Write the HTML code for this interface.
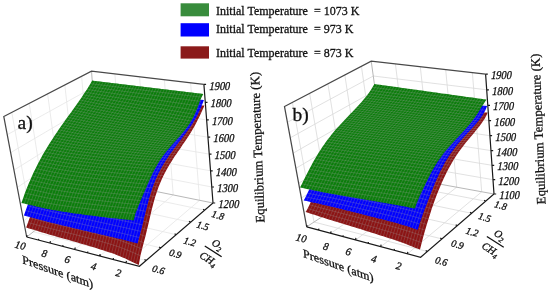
<!DOCTYPE html>
<html><head><meta charset="utf-8"><title>Equilibrium Temperature</title>
<style>
html,body{margin:0;padding:0;background:#fff;}
svg{display:block;}
text{font-family:"Liberation Serif",serif;fill:#111;stroke:#111;stroke-width:0.3px;}
.it{font-style:italic;}
</style></head><body>
<svg width="550" height="291" viewBox="0 0 550 291">
<rect width="550" height="291" fill="#fff"/>

<rect x="180.6" y="3.3" width="28.4" height="13" fill="#388c3c"/>
<rect x="180.6" y="23.2" width="28.4" height="13.3" fill="#0000ff"/>
<rect x="180.6" y="46.3" width="28.4" height="12.3" fill="#8b1a1a"/>
<text x="216" y="14.6" font-size="12" xml:space="preserve">Initial Temperature  = 1073 K</text>
<text x="216" y="33.2" font-size="12" xml:space="preserve">Initial Temperature  = 973 K</text>
<text x="216" y="57.2" font-size="12" xml:space="preserve">Initial Temperature  = 873 K</text>
<path d="M7.3,134.7 L92.7,87.6 L205.3,102.3 M10.7,152.6 L93.9,103.7 L206.6,119.9 M14.0,170.1 L95.1,119.6 L208.0,137.2 M17.3,187.4 L96.2,135.1 L209.3,154.1 M20.5,204.2 L97.3,150.4 L210.5,170.8 M23.6,220.8 L98.4,165.3 L211.8,187.0 M11.8,112.4 L33.3,231.8 L146.1,260.5 M29.2,103.3 L47.8,220.5 L160.7,247.9 M47.6,93.8 L63.1,208.5 L176.2,234.7 M64.8,84.9 L77.3,197.4 L190.6,222.3 M81.6,76.2 L91.3,186.4 L204.7,210.2 M114.9,73.9 L123.1,184.8 L50.1,243.1 M139.6,76.8 L148.1,189.8 L74.9,249.5 M164.4,79.7 L173.2,194.9 L99.8,256.0 M190.6,82.8 L199.6,200.3 L126.1,262.8" fill="none" stroke="#e6e6e6" stroke-width="0.8"/>
<path d="M91.5,71.1 L99.5,180.0 M26.7,237.0 L99.5,180.0 L213.0,203.0" fill="none" stroke="#b8b8b8" stroke-width="1"/>
<path d="M26.7,237.0 L3.8,116.5 L91.5,71.1 L203.9,84.4" fill="none" stroke="#484848" stroke-width="1.25"/>
<path d="M26.2,227.5 L29.0,228.4 L31.9,229.3 L34.7,230.1 L37.6,231.0 L40.4,231.9 L43.2,232.8 L46.1,233.6 L48.9,234.5 L51.8,235.3 L54.6,236.1 L57.5,236.9 L60.4,237.7 L63.2,238.5 L66.1,239.3 L69.0,240.1 L71.8,240.9 L74.7,241.7 L77.5,242.5 L80.4,243.4 L83.2,244.2 L86.1,245.0 L88.9,245.9 L91.8,246.7 L94.6,247.6 L97.5,248.5 L100.3,249.4 L103.1,250.3 L105.9,251.2 L108.8,252.2 L111.6,253.1 L114.4,254.1 L117.2,255.2 L119.9,256.3 L122.7,257.4 L125.4,258.6 L128.1,259.9 L130.8,261.2 L133.4,262.5 L136.1,263.7 L138.8,265.0 L140.4,255.7 L142.1,249.0 L143.7,242.7 L145.4,236.4 L147.0,229.7 L148.7,222.8 L150.3,215.7 L151.9,208.9 L153.6,202.5 L155.2,196.8 L156.9,191.7 L158.5,187.1 L160.2,183.0 L161.8,179.2 L163.4,175.7 L165.1,172.5 L166.7,169.4 L168.4,166.6 L170.0,163.8 L171.7,161.2 L173.3,158.6 L174.9,156.1 L176.6,153.7 L178.2,151.3 L179.9,148.9 L181.5,146.5 L183.1,144.1 L184.8,141.7 L186.4,139.2 L188.1,136.7 L189.7,134.2 L191.4,131.5 L193.0,128.8 L194.6,125.9 L196.3,122.8 L197.9,119.6 L199.6,116.3 L201.2,112.7 L202.9,109.1 L204.5,105.4 L201.8,105.4 L199.1,105.4 L196.4,105.4 L193.8,105.4 L191.1,105.4 L188.4,105.4 L185.7,105.4 L183.0,105.4 L180.3,105.4 L177.6,105.3 L174.9,105.3 L172.2,105.3 L169.6,105.3 L166.9,105.3 L164.2,105.3 L161.5,105.3 L158.8,105.3 L156.1,105.3 L153.4,105.3 L150.8,105.3 L148.1,105.3 L145.4,105.3 L142.7,105.3 L140.0,105.3 L137.3,105.3 L134.6,105.3 L131.9,105.3 L129.2,105.3 L126.6,105.3 L123.9,105.2 L121.2,105.2 L118.5,105.2 L115.8,105.2 L113.1,105.2 L110.4,105.2 L107.8,105.2 L105.1,105.2 L102.4,105.2 L99.7,105.2 L97.0,105.2 L95.2,108.3 L93.5,111.2 L91.7,114.0 L89.9,116.7 L88.1,119.4 L86.4,122.0 L84.6,124.6 L82.8,127.1 L81.1,129.6 L79.3,132.1 L77.5,134.5 L75.8,137.0 L74.0,139.4 L72.2,141.9 L70.4,144.4 L68.7,146.8 L66.9,149.3 L65.1,151.9 L63.4,154.4 L61.6,157.0 L59.8,159.6 L58.1,162.3 L56.3,165.0 L54.5,167.8 L52.8,170.7 L51.0,173.6 L49.2,176.6 L47.4,179.7 L45.7,182.8 L43.9,186.1 L42.1,189.5 L40.4,193.1 L38.6,196.7 L36.8,200.6 L35.1,204.5 L33.3,208.7 L31.5,213.1 L29.7,217.7 L28.0,222.5 L26.2,227.5Z" fill="#8b1414"/>
<path d="M28.0,222.5 L39.3,225.6 L50.7,228.6 L62.1,231.4 L73.5,234.2 L84.9,237.1 L96.3,240.1 L107.6,243.3 L118.8,246.8 L129.7,251.1 L140.4,255.7 M29.7,217.7 L41.1,220.6 L52.4,223.4 L63.8,226.1 L75.2,228.7 L86.6,231.4 L98.0,234.2 L109.3,237.2 L120.4,240.5 L131.4,244.6 L142.1,249.0 M31.5,213.1 L42.8,215.8 L54.1,218.5 L65.5,221.0 L76.9,223.4 L88.3,226.0 L99.6,228.6 L110.9,231.5 L122.1,234.6 L133.0,238.5 L143.7,242.7 M33.3,208.7 L44.6,211.3 L55.9,213.8 L67.3,216.1 L78.6,218.3 L90.0,220.7 L101.3,223.1 L112.6,225.8 L123.7,228.7 L134.6,232.4 L145.4,236.4 M35.1,204.5 L46.3,206.9 L57.6,209.1 L69.0,211.2 L80.3,213.2 L91.7,215.3 L103.0,217.6 L114.2,220.0 L125.4,222.7 L136.3,226.0 L147.0,229.7 M36.8,200.6 L48.1,202.6 L59.4,204.6 L70.7,206.3 L82.0,208.1 L93.4,209.9 L104.7,211.9 L115.9,214.0 L127.0,216.4 L137.9,219.4 L148.7,222.8 M38.6,196.7 L49.8,198.4 L61.1,200.1 L72.4,201.6 L83.8,203.0 L95.1,204.5 L106.3,206.1 L117.5,207.9 L128.7,210.0 L139.6,212.7 L150.3,215.7 M40.4,193.1 L51.6,194.5 L62.8,195.8 L74.1,197.0 L85.5,198.1 L96.7,199.3 L108.0,200.6 L119.2,202.1 L130.3,203.8 L141.2,206.2 L151.9,208.9 M42.1,189.5 L53.3,190.7 L64.6,191.7 L75.9,192.6 L87.2,193.5 L98.4,194.4 L109.7,195.5 L120.9,196.7 L132.0,198.1 L142.8,200.2 L153.6,202.5 M43.9,186.1 L55.1,187.0 L66.3,187.9 L77.6,188.6 L88.9,189.2 L100.1,189.9 L111.3,190.7 L122.5,191.7 L133.6,192.9 L144.5,194.7 L155.2,196.8 M45.7,182.8 L56.9,183.6 L68.1,184.2 L79.3,184.8 L90.6,185.2 L101.8,185.8 L113.0,186.4 L124.2,187.2 L135.3,188.2 L146.1,189.8 L156.9,191.7 M47.4,179.7 L58.6,180.3 L69.8,180.8 L81.0,181.2 L92.3,181.5 L103.5,181.9 L114.7,182.5 L125.8,183.1 L136.9,184.0 L147.8,185.4 L158.5,187.1 M49.2,176.6 L60.4,177.1 L71.5,177.5 L82.8,177.8 L94.0,178.1 L105.2,178.4 L116.4,178.8 L127.5,179.4 L138.6,180.1 L149.4,181.4 L160.2,183.0 M51.0,173.6 L62.1,174.0 L73.3,174.4 L84.5,174.6 L95.7,174.8 L106.9,175.1 L118.0,175.4 L129.2,175.9 L140.2,176.6 L151.1,177.7 L161.8,179.2 M52.8,170.7 L63.9,171.0 L75.0,171.4 L86.2,171.5 L97.4,171.7 L108.6,171.9 L119.7,172.2 L130.8,172.6 L141.8,173.3 L152.7,174.4 L163.4,175.7 M54.5,167.8 L65.6,168.1 L76.8,168.4 L87.9,168.6 L99.1,168.7 L110.2,168.9 L121.4,169.2 L132.5,169.6 L143.5,170.2 L154.3,171.2 L165.1,172.5 M56.3,165.0 L67.4,165.3 L78.5,165.6 L89.6,165.8 L100.8,165.9 L111.9,166.1 L123.0,166.3 L134.1,166.7 L145.1,167.2 L156.0,168.2 L166.7,169.4 M58.1,162.3 L69.1,162.6 L80.2,162.9 L91.4,163.0 L102.5,163.1 L113.6,163.3 L124.7,163.5 L135.8,163.9 L146.8,164.4 L157.6,165.4 L168.4,166.6 M59.8,159.6 L70.9,159.9 L82.0,160.2 L93.1,160.3 L104.2,160.5 L115.3,160.6 L126.4,160.9 L137.4,161.2 L148.4,161.8 L159.3,162.7 L170.0,163.8 M61.6,157.0 L72.7,157.3 L83.7,157.6 L94.8,157.7 L105.9,157.9 L117.0,158.1 L128.1,158.3 L139.1,158.7 L150.1,159.2 L160.9,160.1 L171.7,161.2 M63.4,154.4 L74.4,154.7 L85.5,155.0 L96.5,155.2 L107.6,155.3 L118.7,155.5 L129.7,155.8 L140.8,156.2 L151.7,156.7 L162.6,157.5 L173.3,158.6 M65.1,151.9 L76.2,152.2 L87.2,152.5 L98.3,152.7 L109.3,152.8 L120.4,153.1 L131.4,153.3 L142.4,153.7 L153.4,154.2 L164.2,155.1 L174.9,156.1 M66.9,149.3 L77.9,149.7 L88.9,150.0 L100.0,150.2 L111.0,150.4 L122.1,150.6 L133.1,150.9 L144.1,151.3 L155.0,151.8 L165.8,152.7 L176.6,153.7 M68.7,146.8 L79.7,147.2 L90.7,147.5 L101.7,147.8 L112.7,148.0 L123.7,148.2 L134.8,148.5 L145.7,148.9 L156.7,149.5 L167.5,150.3 L178.2,151.3 M70.4,144.4 L81.4,144.7 L92.4,145.1 L103.4,145.3 L114.4,145.6 L125.4,145.8 L136.4,146.2 L147.4,146.6 L158.3,147.1 L169.1,147.9 L179.9,148.9 M72.2,141.9 L83.2,142.3 L94.1,142.6 L105.1,142.9 L116.1,143.2 L127.1,143.5 L138.1,143.8 L149.0,144.2 L160.0,144.8 L170.8,145.6 L181.5,146.5 M74.0,139.4 L84.9,139.8 L95.9,140.2 L106.9,140.5 L117.8,140.8 L128.8,141.1 L139.8,141.5 L150.7,141.9 L161.6,142.4 L172.4,143.2 L183.1,144.1 M75.8,137.0 L86.7,137.4 L97.6,137.8 L108.6,138.1 L119.5,138.4 L130.5,138.7 L141.4,139.1 L152.4,139.5 L163.2,140.1 L174.0,140.8 L184.8,141.7 M77.5,134.5 L88.4,134.9 L99.4,135.3 L110.3,135.7 L121.3,136.0 L132.2,136.3 L143.1,136.7 L154.0,137.1 L164.9,137.7 L175.7,138.4 L186.4,139.2 M79.3,132.1 L90.2,132.5 L101.1,132.9 L112.0,133.2 L123.0,133.5 L133.9,133.9 L144.8,134.3 L155.7,134.7 L166.5,135.2 L177.3,135.9 L188.1,136.7 M81.1,129.6 L92.0,130.0 L102.8,130.4 L113.8,130.7 L124.7,131.1 L135.6,131.4 L146.5,131.8 L157.3,132.2 L168.2,132.7 L179.0,133.4 L189.7,134.2 M82.8,127.1 L93.7,127.5 L104.6,127.9 L115.5,128.2 L126.4,128.5 L137.2,128.9 L148.1,129.3 L159.0,129.7 L169.8,130.2 L180.6,130.8 L191.4,131.5 M84.6,124.6 L95.5,124.9 L106.3,125.3 L117.2,125.6 L128.1,126.0 L138.9,126.3 L149.8,126.7 L160.6,127.1 L171.5,127.5 L182.3,128.1 L193.0,128.8 M86.4,122.0 L97.2,122.4 L108.1,122.7 L118.9,123.0 L129.8,123.3 L140.6,123.6 L151.5,124.0 L162.3,124.3 L173.1,124.7 L183.9,125.3 L194.6,125.9 M88.1,119.4 L99.0,119.7 L109.8,120.0 L120.6,120.3 L131.5,120.6 L142.3,120.9 L153.1,121.2 L164.0,121.5 L174.8,121.9 L185.5,122.3 L196.3,122.8 M89.9,116.7 L100.7,117.0 L111.5,117.3 L122.4,117.5 L133.2,117.7 L144.0,118.0 L154.8,118.2 L165.6,118.5 L176.4,118.8 L187.2,119.2 L197.9,119.6 M91.7,114.0 L102.5,114.2 L113.3,114.4 L124.1,114.6 L134.9,114.8 L145.7,115.0 L156.5,115.2 L167.3,115.4 L178.1,115.6 L188.8,115.9 L199.6,116.3 M93.5,111.2 L104.2,111.3 L115.0,111.5 L125.8,111.6 L136.6,111.7 L147.4,111.8 L158.2,112.0 L168.9,112.1 L179.7,112.3 L190.5,112.5 L201.2,112.7 M95.2,108.3 L106.0,108.3 L116.8,108.4 L127.5,108.5 L138.3,108.5 L149.1,108.6 L159.8,108.7 L170.6,108.8 L181.4,108.9 L192.1,109.0 L202.9,109.1 M29.0,228.4 L36.1,209.3 L43.2,193.4 L50.2,179.8 L57.3,167.9 L64.4,157.1 L71.4,146.9 L78.5,137.1 L85.6,127.2 L92.6,116.8 L99.7,105.2 M31.9,229.3 L38.9,210.0 L46.0,193.8 L53.0,180.0 L60.1,168.0 L67.1,157.2 L74.2,147.0 L81.2,137.2 L88.3,127.3 L95.3,116.9 L102.4,105.2 M34.7,230.1 L41.8,210.6 L48.8,194.1 L55.8,180.1 L62.9,168.1 L69.9,157.2 L76.9,147.1 L84.0,137.3 L91.0,127.4 L98.0,116.9 L105.1,105.2 M37.6,231.0 L44.6,211.3 L51.6,194.5 L58.6,180.3 L65.6,168.1 L72.7,157.3 L79.7,147.2 L86.7,137.4 L93.7,127.5 L100.7,117.0 L107.7,105.2 M40.4,231.9 L47.4,211.9 L54.4,194.8 L61.4,180.4 L68.4,168.2 L75.4,157.4 L82.4,147.3 L89.4,137.5 L96.4,127.6 L103.4,117.1 L110.4,105.2 M43.2,232.8 L50.2,212.5 L57.2,195.2 L64.2,180.5 L71.2,168.3 L78.2,157.5 L85.2,147.4 L92.2,137.6 L99.1,127.7 L106.1,117.1 L113.1,105.2 M46.1,233.6 L53.1,213.2 L60.0,195.5 L67.0,180.7 L74.0,168.4 L80.9,157.5 L87.9,147.4 L94.9,137.7 L101.9,127.8 L108.8,117.2 L115.8,105.2 M48.9,234.5 L55.9,213.8 L62.8,195.8 L69.8,180.8 L76.8,168.4 L83.7,157.6 L90.7,147.5 L97.6,137.8 L104.6,127.9 L111.5,117.3 L118.5,105.2 M51.8,235.3 L58.7,214.4 L65.7,196.1 L72.6,180.9 L79.5,168.5 L86.5,157.6 L93.4,147.6 L100.4,137.9 L107.3,128.0 L114.2,117.3 L121.2,105.2 M54.6,236.1 L61.6,215.0 L68.5,196.4 L75.4,181.0 L82.3,168.5 L89.3,157.7 L96.2,147.6 L103.1,137.9 L110.0,128.0 L117.0,117.4 L123.9,105.2 M57.5,236.9 L64.4,215.5 L71.3,196.7 L78.2,181.1 L85.1,168.6 L92.0,157.7 L98.9,147.7 L105.8,138.0 L112.7,128.1 L119.7,117.4 L126.6,105.3 M60.4,237.7 L67.3,216.1 L74.1,197.0 L81.0,181.2 L87.9,168.6 L94.8,157.7 L101.7,147.8 L108.6,138.1 L115.5,128.2 L122.4,117.5 L129.3,105.3 M63.2,238.5 L70.1,216.6 L77.0,197.3 L83.8,181.3 L90.7,168.6 L97.6,157.8 L104.5,147.8 L111.3,138.2 L118.2,128.3 L125.1,117.6 L131.9,105.3 M66.1,239.3 L72.9,217.2 L79.8,197.5 L86.7,181.3 L93.5,168.7 L100.4,157.8 L107.2,147.9 L114.1,138.2 L120.9,128.4 L127.8,117.6 L134.6,105.3 M69.0,240.1 L75.8,217.8 L82.6,197.8 L89.5,181.4 L96.3,168.7 L103.1,157.8 L110.0,147.9 L116.8,138.3 L123.6,128.5 L130.5,117.7 L137.3,105.3 M71.8,240.9 L78.6,218.3 L85.5,198.1 L92.3,181.5 L99.1,168.7 L105.9,157.9 L112.7,148.0 L119.5,138.4 L126.4,128.5 L133.2,117.7 L140.0,105.3 M74.7,241.7 L81.5,218.9 L88.3,198.4 L95.1,181.6 L101.9,168.8 L108.7,157.9 L115.5,148.0 L122.3,138.5 L129.1,128.6 L135.9,117.8 L142.7,105.3 M77.5,242.5 L84.3,219.5 L91.1,198.7 L97.9,181.7 L104.7,168.8 L111.5,158.0 L118.2,148.1 L125.0,138.6 L131.8,128.7 L138.6,117.9 L145.4,105.3 M80.4,243.4 L87.2,220.1 L93.9,199.0 L100.7,181.8 L107.5,168.9 L114.2,158.0 L121.0,148.2 L127.8,138.6 L134.5,128.8 L141.3,117.9 L148.1,105.3 M83.2,244.2 L90.0,220.7 L96.7,199.3 L103.5,181.9 L110.2,168.9 L117.0,158.1 L123.7,148.2 L130.5,138.7 L137.2,128.9 L144.0,118.0 L150.8,105.3 M86.1,245.0 L92.8,221.3 L99.6,199.6 L106.3,182.1 L113.0,169.0 L119.8,158.1 L126.5,148.3 L133.2,138.8 L140.0,129.0 L146.7,118.0 L153.4,105.3 M88.9,245.9 L95.7,221.9 L102.4,200.0 L109.1,182.2 L115.8,169.0 L122.5,158.2 L129.3,148.4 L136.0,138.9 L142.7,129.1 L149.4,118.1 L156.1,105.3 M91.8,246.7 L98.5,222.5 L105.2,200.3 L111.9,182.3 L118.6,169.1 L125.3,158.2 L132.0,148.5 L138.7,139.0 L145.4,129.2 L152.1,118.2 L158.8,105.3 M94.6,247.6 L101.3,223.1 L108.0,200.6 L114.7,182.5 L121.4,169.2 L128.1,158.3 L134.8,148.5 L141.4,139.1 L148.1,129.3 L154.8,118.2 L161.5,105.3 M97.5,248.5 L104.1,223.8 L110.8,201.0 L117.5,182.6 L124.2,169.3 L130.8,158.4 L137.5,148.6 L144.2,139.2 L150.8,129.4 L157.5,118.3 L164.2,105.3 M100.3,249.4 L107.0,224.5 L113.6,201.3 L120.3,182.8 L126.9,169.4 L133.6,158.5 L140.2,148.7 L146.9,139.3 L153.6,129.5 L160.2,118.4 L166.9,105.3 M103.1,250.3 L109.8,225.1 L116.4,201.7 L123.1,182.9 L129.7,169.5 L136.3,158.6 L143.0,148.8 L149.6,139.4 L156.3,129.6 L162.9,118.4 L169.6,105.3 M105.9,251.2 L112.6,225.8 L119.2,202.1 L125.8,183.1 L132.5,169.6 L139.1,158.7 L145.7,148.9 L152.4,139.5 L159.0,129.7 L165.6,118.5 L172.3,105.3 M108.8,252.2 L115.4,226.5 L122.0,202.5 L128.6,183.3 L135.2,169.7 L141.9,158.8 L148.5,149.0 L155.1,139.6 L161.7,129.8 L168.3,118.6 L174.9,105.3 M111.6,253.1 L118.2,227.2 L124.8,202.9 L131.4,183.5 L138.0,169.8 L144.6,158.9 L151.2,149.2 L157.8,139.8 L164.4,129.9 L171.0,118.7 L177.6,105.4 M114.4,254.1 L121.0,228.0 L127.6,203.4 L134.2,183.7 L140.7,170.0 L147.3,159.0 L153.9,149.3 L160.5,139.9 L167.1,130.0 L173.7,118.7 L180.3,105.4 M117.2,255.2 L123.7,228.7 L130.3,203.8 L136.9,184.0 L143.5,170.2 L150.1,159.2 L156.7,149.5 L163.2,140.1 L169.8,130.2 L176.4,118.8 L183.0,105.4 M119.9,256.3 L126.5,229.6 L133.1,204.4 L139.7,184.3 L146.2,170.4 L152.8,159.4 L159.4,149.6 L166.0,140.2 L172.5,130.3 L179.1,118.9 L185.7,105.4 M122.7,257.4 L129.2,230.5 L135.8,204.9 L142.4,184.6 L148.9,170.6 L155.5,159.6 L162.1,149.8 L168.7,140.4 L175.2,130.5 L181.8,119.0 L188.4,105.4 M125.4,258.6 L131.9,231.4 L138.5,205.5 L145.1,185.0 L151.7,170.9 L158.2,159.8 L164.8,150.0 L171.4,140.6 L177.9,130.6 L184.5,119.1 L191.1,105.4 M128.1,259.9 L134.6,232.4 L141.2,206.2 L147.8,185.4 L154.3,171.2 L160.9,160.1 L167.5,150.3 L174.0,140.8 L180.6,130.8 L187.2,119.2 L193.8,105.4 M130.8,261.2 L137.3,233.4 L143.9,206.9 L150.5,185.8 L157.0,171.5 L163.6,160.3 L170.2,150.5 L176.7,141.0 L183.3,131.0 L189.9,119.3 L196.4,105.4 M133.4,262.5 L140.0,234.4 L146.6,207.5 L153.1,186.3 L159.7,171.8 L166.3,160.6 L172.8,150.8 L179.4,141.3 L186.0,131.2 L192.6,119.4 L199.1,105.4 M136.1,263.7 L142.7,235.4 L149.3,208.2 L155.8,186.7 L162.4,172.2 L169.0,160.9 L175.5,151.0 L182.1,141.5 L188.7,131.3 L195.2,119.5 L201.8,105.4" fill="none" stroke="rgba(165,165,165,0.5)" stroke-width="0.5"/>
<path d="M23.9,215.6 L26.7,216.3 L29.6,217.1 L32.4,217.8 L35.2,218.6 L38.0,219.3 L40.9,220.1 L43.7,220.8 L46.5,221.5 L49.4,222.2 L52.2,222.9 L55.0,223.6 L57.9,224.3 L60.7,225.0 L63.6,225.7 L66.4,226.3 L69.3,227.0 L72.1,227.7 L75.0,228.4 L77.8,229.0 L80.6,229.7 L83.5,230.4 L86.3,231.0 L89.2,231.7 L92.0,232.4 L94.9,233.1 L97.7,233.7 L100.6,234.4 L103.4,235.1 L106.3,235.7 L109.1,236.4 L112.0,237.1 L114.8,237.8 L117.6,238.4 L120.5,239.1 L123.3,239.8 L126.2,240.5 L129.0,241.2 L131.8,242.0 L134.7,242.7 L137.5,243.4 L139.2,237.5 L140.8,231.4 L142.5,224.9 L144.1,218.1 L145.8,211.3 L147.5,204.7 L149.1,198.5 L150.8,193.0 L152.4,187.9 L154.1,183.4 L155.8,179.3 L157.4,175.6 L159.1,172.2 L160.7,169.0 L162.4,166.0 L164.1,163.2 L165.7,160.5 L167.4,158.0 L169.0,155.5 L170.7,153.2 L172.4,150.9 L174.0,148.6 L175.7,146.4 L177.3,144.3 L179.0,142.1 L180.7,140.0 L182.3,137.8 L184.0,135.6 L185.6,133.4 L187.3,131.1 L189.0,128.8 L190.6,126.4 L192.3,123.9 L193.9,121.2 L195.6,118.4 L197.3,115.4 L198.9,112.1 L200.6,108.5 L202.2,104.5 L203.9,100.0 L201.2,99.8 L198.4,99.7 L195.7,99.5 L193.0,99.3 L190.2,99.2 L187.5,99.0 L184.8,98.8 L182.1,98.7 L179.3,98.5 L176.6,98.3 L173.9,98.2 L171.1,98.0 L168.4,97.8 L165.7,97.7 L162.9,97.5 L160.2,97.3 L157.5,97.2 L154.8,97.0 L152.0,96.8 L149.3,96.7 L146.6,96.5 L143.8,96.3 L141.1,96.1 L138.4,96.0 L135.7,95.8 L132.9,95.6 L130.2,95.5 L127.5,95.3 L124.7,95.1 L122.0,95.0 L119.3,94.8 L116.5,94.6 L113.8,94.5 L111.1,94.3 L108.4,94.1 L105.6,94.0 L102.9,93.8 L100.2,93.6 L97.4,93.5 L94.7,93.3 L92.9,96.4 L91.2,99.3 L89.4,102.1 L87.6,104.8 L85.8,107.5 L84.1,110.1 L82.3,112.7 L80.5,115.2 L78.8,117.7 L77.0,120.2 L75.2,122.6 L73.5,125.1 L71.7,127.5 L69.9,130.0 L68.1,132.5 L66.4,134.9 L64.6,137.4 L62.8,140.0 L61.1,142.5 L59.3,145.1 L57.5,147.7 L55.8,150.4 L54.0,153.1 L52.2,155.9 L50.5,158.8 L48.7,161.7 L46.9,164.7 L45.1,167.8 L43.4,170.9 L41.6,174.2 L39.8,177.6 L38.1,181.2 L36.3,184.8 L34.5,188.7 L32.8,192.6 L31.0,196.8 L29.2,201.2 L27.4,205.8 L25.7,210.6 L23.9,215.6Z" fill="#0000ff"/>
<path d="M25.7,210.6 L37.0,213.5 L48.3,216.3 L59.6,219.0 L71.0,221.6 L82.4,224.2 L93.7,226.8 L105.1,229.4 L116.5,232.0 L127.8,234.7 L139.2,237.5 M27.4,205.8 L38.7,208.5 L50.0,211.2 L61.4,213.8 L72.7,216.3 L84.1,218.8 L95.4,221.2 L106.8,223.7 L118.2,226.2 L129.5,228.7 L140.8,231.4 M29.2,201.2 L40.5,203.7 L51.8,206.3 L63.1,208.6 L74.4,210.9 L85.8,213.2 L97.1,215.5 L108.5,217.8 L119.8,220.1 L131.2,222.4 L142.5,224.9 M31.0,196.8 L42.2,199.1 L53.5,201.4 L64.8,203.5 L76.2,205.6 L87.5,207.7 L98.9,209.7 L110.2,211.7 L121.5,213.8 L132.8,215.9 L144.1,218.1 M32.8,192.6 L44.0,194.7 L55.3,196.7 L66.6,198.6 L77.9,200.4 L89.2,202.2 L100.6,203.9 L111.9,205.7 L123.2,207.5 L134.5,209.3 L145.8,211.3 M34.5,188.7 L45.8,190.4 L57.0,192.2 L68.3,193.8 L79.6,195.3 L90.9,196.8 L102.3,198.4 L113.6,199.9 L124.9,201.4 L136.2,203.0 L147.5,204.7 M36.3,184.8 L47.5,186.4 L58.8,187.9 L70.1,189.2 L81.4,190.6 L92.7,191.9 L104.0,193.1 L115.3,194.4 L126.6,195.7 L137.9,197.1 L149.1,198.5 M38.1,181.2 L49.3,182.5 L60.5,183.8 L71.8,185.0 L83.1,186.1 L94.4,187.2 L105.7,188.3 L117.0,189.4 L128.3,190.5 L139.5,191.7 L150.8,193.0 M39.8,177.6 L51.0,178.8 L62.3,180.0 L73.5,181.0 L84.8,182.0 L96.1,183.0 L107.4,183.9 L118.7,184.9 L129.9,185.8 L141.2,186.8 L152.4,187.9 M41.6,174.2 L52.8,175.3 L64.0,176.4 L75.3,177.3 L86.5,178.1 L97.8,179.0 L109.1,179.8 L120.3,180.7 L131.6,181.5 L142.9,182.4 L154.1,183.4 M43.4,170.9 L54.6,171.9 L65.8,172.9 L77.0,173.7 L88.3,174.5 L99.5,175.3 L110.8,176.1 L122.0,176.8 L133.3,177.6 L144.5,178.4 L155.8,179.3 M45.1,167.8 L56.3,168.7 L67.5,169.6 L78.8,170.4 L90.0,171.1 L101.2,171.8 L112.5,172.5 L123.7,173.3 L135.0,174.0 L146.2,174.8 L157.4,175.6 M46.9,164.7 L58.1,165.6 L69.3,166.4 L80.5,167.2 L91.7,167.9 L103.0,168.6 L114.2,169.3 L125.4,169.9 L136.7,170.6 L147.9,171.4 L159.1,172.2 M48.7,161.7 L59.9,162.6 L71.0,163.4 L82.2,164.1 L93.5,164.8 L104.7,165.5 L115.9,166.1 L127.1,166.8 L138.3,167.5 L149.5,168.2 L160.7,169.0 M50.5,158.8 L61.6,159.6 L72.8,160.5 L84.0,161.2 L95.2,161.9 L106.4,162.5 L117.6,163.2 L128.8,163.8 L140.0,164.5 L151.2,165.2 L162.4,166.0 M52.2,155.9 L63.4,156.8 L74.5,157.6 L85.7,158.3 L96.9,159.0 L108.1,159.7 L119.3,160.3 L130.5,161.0 L141.7,161.7 L152.9,162.4 L164.1,163.2 M54.0,153.1 L65.1,154.0 L76.3,154.8 L87.5,155.6 L98.6,156.3 L109.8,157.0 L121.0,157.6 L132.2,158.3 L143.4,159.0 L154.6,159.7 L165.7,160.5 M55.8,150.4 L66.9,151.3 L78.0,152.1 L89.2,152.9 L100.4,153.6 L111.5,154.3 L122.7,155.0 L133.9,155.7 L145.1,156.4 L156.2,157.2 L167.4,158.0 M57.5,147.7 L68.7,148.6 L79.8,149.5 L90.9,150.3 L102.1,151.0 L113.3,151.8 L124.4,152.5 L135.6,153.2 L146.7,153.9 L157.9,154.7 L169.0,155.5 M59.3,145.1 L70.4,146.0 L81.5,146.9 L92.7,147.7 L103.8,148.5 L115.0,149.2 L126.1,150.0 L137.3,150.8 L148.4,151.5 L159.6,152.3 L170.7,153.2 M61.1,142.5 L72.2,143.5 L83.3,144.4 L94.4,145.2 L105.6,146.0 L116.7,146.8 L127.8,147.6 L139.0,148.4 L150.1,149.2 L161.2,150.0 L172.4,150.9 M62.8,140.0 L73.9,140.9 L85.0,141.9 L96.2,142.7 L107.3,143.6 L118.4,144.4 L129.5,145.2 L140.7,146.0 L151.8,146.9 L162.9,147.7 L174.0,148.6 M64.6,137.4 L75.7,138.4 L86.8,139.4 L97.9,140.3 L109.0,141.2 L120.1,142.0 L131.2,142.9 L142.4,143.7 L153.5,144.6 L164.6,145.5 L175.7,146.4 M66.4,134.9 L77.5,136.0 L88.5,137.0 L99.6,137.9 L110.7,138.8 L121.8,139.7 L132.9,140.6 L144.1,141.5 L155.2,142.4 L166.3,143.3 L177.3,144.3 M68.1,132.5 L79.2,133.5 L90.3,134.5 L101.4,135.5 L112.5,136.4 L123.6,137.4 L134.7,138.3 L145.7,139.2 L156.8,140.2 L167.9,141.1 L179.0,142.1 M69.9,130.0 L81.0,131.1 L92.0,132.1 L103.1,133.1 L114.2,134.1 L125.3,135.0 L136.4,136.0 L147.4,137.0 L158.5,137.9 L169.6,138.9 L180.7,140.0 M71.7,127.5 L82.7,128.6 L93.8,129.7 L104.8,130.7 L115.9,131.7 L127.0,132.7 L138.1,133.7 L149.1,134.7 L160.2,135.7 L171.3,136.7 L182.3,137.8 M73.5,125.1 L84.5,126.2 L95.5,127.3 L106.6,128.4 L117.6,129.4 L128.7,130.4 L139.8,131.4 L150.8,132.5 L161.9,133.5 L172.9,134.5 L184.0,135.6 M75.2,122.6 L86.3,123.8 L97.3,124.9 L108.3,126.0 L119.4,127.0 L130.4,128.1 L141.5,129.1 L152.5,130.2 L163.6,131.2 L174.6,132.3 L185.6,133.4 M77.0,120.2 L88.0,121.3 L99.0,122.5 L110.1,123.5 L121.1,124.6 L132.1,125.7 L143.2,126.8 L154.2,127.8 L165.2,128.9 L176.3,130.0 L187.3,131.1 M78.8,117.7 L89.8,118.8 L100.8,120.0 L111.8,121.1 L122.8,122.2 L133.9,123.3 L144.9,124.4 L155.9,125.5 L166.9,126.6 L177.9,127.7 L189.0,128.8 M80.5,115.2 L91.5,116.4 L102.5,117.5 L113.5,118.6 L124.6,119.7 L135.6,120.8 L146.6,121.9 L157.6,123.0 L168.6,124.1 L179.6,125.2 L190.6,126.4 M82.3,112.7 L93.3,113.8 L104.3,115.0 L115.3,116.1 L126.3,117.2 L137.3,118.3 L148.3,119.4 L159.3,120.5 L170.3,121.6 L181.3,122.7 L192.3,123.9 M84.1,110.1 L95.1,111.2 L106.0,112.4 L117.0,113.5 L128.0,114.6 L139.0,115.7 L150.0,116.8 L161.0,117.9 L172.0,119.0 L183.0,120.1 L193.9,121.2 M85.8,107.5 L96.8,108.6 L107.8,109.7 L118.8,110.8 L129.7,111.9 L140.7,113.0 L151.7,114.1 L162.7,115.1 L173.7,116.2 L184.6,117.3 L195.6,118.4 M87.6,104.8 L98.6,105.9 L109.5,107.0 L120.5,108.0 L131.5,109.1 L142.4,110.1 L153.4,111.2 L164.4,112.2 L175.3,113.3 L186.3,114.3 L197.3,115.4 M89.4,102.1 L100.3,103.1 L111.3,104.1 L122.2,105.1 L133.2,106.1 L144.2,107.1 L155.1,108.1 L166.1,109.1 L177.0,110.1 L188.0,111.1 L198.9,112.1 M91.2,99.3 L102.1,100.2 L113.0,101.1 L124.0,102.1 L134.9,103.0 L145.9,103.9 L156.8,104.8 L167.8,105.7 L178.7,106.7 L189.6,107.6 L200.6,108.5 M92.9,96.4 L103.9,97.2 L114.8,98.0 L125.7,98.8 L136.7,99.6 L147.6,100.4 L158.5,101.2 L169.4,102.1 L180.4,102.9 L191.3,103.7 L202.2,104.5 M26.7,216.3 L33.8,197.4 L40.9,181.5 L47.9,168.0 L55.0,156.1 L62.1,145.3 L69.1,135.2 L76.2,125.4 L83.3,115.5 L90.4,105.1 L97.4,93.5 M29.6,217.1 L36.6,198.0 L43.7,181.8 L50.7,168.2 L57.8,156.3 L64.9,145.6 L71.9,135.4 L79.0,125.6 L86.0,115.8 L93.1,105.4 L100.2,93.6 M32.4,217.8 L39.4,198.6 L46.5,182.2 L53.5,168.5 L60.6,156.6 L67.6,145.8 L74.7,135.7 L81.7,125.9 L88.8,116.1 L95.8,105.6 L102.9,93.8 M35.2,218.6 L42.2,199.1 L49.3,182.5 L56.3,168.7 L63.4,156.8 L70.4,146.0 L77.5,136.0 L84.5,126.2 L91.5,116.4 L98.6,105.9 L105.6,94.0 M38.0,219.3 L45.1,199.7 L52.1,182.9 L59.1,168.9 L66.2,157.0 L73.2,146.3 L80.2,136.2 L87.3,126.5 L94.3,116.6 L101.3,106.2 L108.3,94.1 M40.9,220.1 L47.9,200.3 L54.9,183.2 L61.9,169.2 L68.9,157.2 L76.0,146.5 L83.0,136.5 L90.0,126.8 L97.0,116.9 L104.1,106.4 L111.1,94.3 M43.7,220.8 L50.7,200.9 L57.7,183.5 L64.7,169.4 L71.7,157.4 L78.8,146.7 L85.8,136.7 L92.8,127.0 L99.8,117.2 L106.8,106.7 L113.8,94.5 M46.5,221.5 L53.5,201.4 L60.5,183.8 L67.5,169.6 L74.5,157.6 L81.5,146.9 L88.5,137.0 L95.5,127.3 L102.5,117.5 L109.5,107.0 L116.5,94.6 M49.4,222.2 L56.4,202.0 L63.3,184.1 L70.3,169.8 L77.3,157.8 L84.3,147.1 L91.3,137.2 L98.3,127.6 L105.3,117.8 L112.3,107.2 L119.3,94.8 M52.2,222.9 L59.2,202.5 L66.2,184.4 L73.1,170.0 L80.1,158.0 L87.1,147.3 L94.1,137.4 L101.1,127.8 L108.0,118.1 L115.0,107.5 L122.0,95.0 M55.0,223.6 L62.0,203.0 L69.0,184.7 L76.0,170.2 L82.9,158.1 L89.9,147.5 L96.9,137.7 L103.8,128.1 L110.8,118.3 L117.8,107.8 L124.7,95.1 M57.9,224.3 L64.8,203.5 L71.8,185.0 L78.8,170.4 L85.7,158.3 L92.7,147.7 L99.6,137.9 L106.6,128.4 L113.5,118.6 L120.5,108.0 L127.5,95.3 M60.7,225.0 L67.7,204.1 L74.6,185.3 L81.6,170.6 L88.5,158.5 L95.5,147.9 L102.4,138.1 L109.4,128.6 L116.3,118.9 L123.2,108.3 L130.2,95.5 M63.6,225.7 L70.5,204.6 L77.4,185.6 L84.4,170.8 L91.3,158.7 L98.2,148.1 L105.2,138.3 L112.1,128.9 L119.1,119.2 L126.0,108.6 L132.9,95.6 M66.4,226.3 L73.3,205.1 L80.3,185.8 L87.2,170.9 L94.1,158.8 L101.0,148.3 L108.0,138.6 L114.9,129.1 L121.8,119.5 L128.7,108.8 L135.7,95.8 M69.3,227.0 L76.2,205.6 L83.1,186.1 L90.0,171.1 L96.9,159.0 L103.8,148.5 L110.7,138.8 L117.6,129.4 L124.6,119.7 L131.5,109.1 L138.4,96.0 M72.1,227.7 L79.0,206.1 L85.9,186.4 L92.8,171.3 L99.7,159.2 L106.6,148.7 L113.5,139.0 L120.4,129.6 L127.3,120.0 L134.2,109.3 L141.1,96.1 M75.0,228.4 L81.8,206.6 L88.7,186.7 L95.6,171.5 L102.5,159.3 L109.4,148.9 L116.3,139.2 L123.2,129.9 L130.1,120.3 L137.0,109.6 L143.8,96.3 M77.8,229.0 L84.7,207.1 L91.6,187.0 L98.4,171.7 L105.3,159.5 L112.2,149.1 L119.1,139.5 L125.9,130.2 L132.8,120.6 L139.7,109.9 L146.6,96.5 M80.6,229.7 L87.5,207.7 L94.4,187.2 L101.2,171.8 L108.1,159.7 L115.0,149.2 L121.8,139.7 L128.7,130.4 L135.6,120.8 L142.4,110.1 L149.3,96.7 M83.5,230.4 L90.3,208.2 L97.2,187.5 L104.1,172.0 L110.9,159.9 L117.8,149.4 L124.6,139.9 L131.5,130.7 L138.3,121.1 L145.2,110.4 L152.0,96.8 M86.3,231.0 L93.2,208.7 L100.0,187.8 L106.9,172.2 L113.7,160.0 L120.6,149.6 L127.4,140.1 L134.2,130.9 L141.1,121.4 L147.9,110.7 L154.8,97.0 M89.2,231.7 L96.0,209.2 L102.8,188.0 L109.7,172.4 L116.5,160.2 L123.3,149.8 L130.2,140.4 L137.0,131.2 L143.8,121.7 L150.7,110.9 L157.5,97.2 M92.0,232.4 L98.9,209.7 L105.7,188.3 L112.5,172.5 L119.3,160.3 L126.1,150.0 L132.9,140.6 L139.8,131.4 L146.6,121.9 L153.4,111.2 L160.2,97.3 M94.9,233.1 L101.7,210.2 L108.5,188.6 L115.3,172.7 L122.1,160.5 L128.9,150.2 L135.7,140.8 L142.5,131.7 L149.3,122.2 L156.1,111.4 L163.0,97.5 M97.7,233.7 L104.5,210.7 L111.3,188.9 L118.1,172.9 L124.9,160.7 L131.7,150.4 L138.5,141.0 L145.3,131.9 L152.1,122.5 L158.9,111.7 L165.7,97.7 M100.6,234.4 L107.4,211.2 L114.1,189.1 L120.9,173.1 L127.7,160.8 L134.5,150.6 L141.3,141.2 L148.1,132.2 L154.8,122.8 L161.6,112.0 L168.4,97.8 M103.4,235.1 L110.2,211.7 L117.0,189.4 L123.7,173.3 L130.5,161.0 L137.3,150.8 L144.1,141.5 L150.8,132.5 L157.6,123.0 L164.4,112.2 L171.1,98.0 M106.3,235.7 L113.0,212.2 L119.8,189.7 L126.5,173.4 L133.3,161.2 L140.1,151.0 L146.8,141.7 L153.6,132.7 L160.3,123.3 L167.1,112.5 L173.9,98.2 M109.1,236.4 L115.9,212.8 L122.6,190.0 L129.4,173.6 L136.1,161.4 L142.9,151.1 L149.6,141.9 L156.4,133.0 L163.1,123.6 L169.9,112.7 L176.6,98.3 M112.0,237.1 L118.7,213.3 L125.4,190.3 L132.2,173.8 L138.9,161.5 L145.6,151.3 L152.4,142.1 L159.1,133.2 L165.9,123.9 L172.6,113.0 L179.3,98.5 M114.8,237.8 L121.5,213.8 L128.3,190.5 L135.0,174.0 L141.7,161.7 L148.4,151.5 L155.2,142.4 L161.9,133.5 L168.6,124.1 L175.3,113.3 L182.1,98.7 M117.6,238.4 L124.4,214.3 L131.1,190.8 L137.8,174.2 L144.5,161.9 L151.2,151.7 L157.9,142.6 L164.6,133.7 L171.4,124.4 L178.1,113.5 L184.8,98.8 M120.5,239.1 L127.2,214.8 L133.9,191.1 L140.6,174.4 L147.3,162.0 L154.0,151.9 L160.7,142.8 L167.4,134.0 L174.1,124.7 L180.8,113.8 L187.5,99.0 M123.3,239.8 L130.0,215.4 L136.7,191.4 L143.4,174.6 L150.1,162.2 L156.8,152.1 L163.5,143.1 L170.2,134.3 L176.9,125.0 L183.6,114.1 L190.3,99.2 M126.2,240.5 L132.8,215.9 L139.5,191.7 L146.2,174.8 L152.9,162.4 L159.6,152.3 L166.3,143.3 L172.9,134.5 L179.6,125.2 L186.3,114.3 L193.0,99.3 M129.0,241.2 L135.7,216.5 L142.3,192.0 L149.0,175.0 L155.7,162.6 L162.4,152.5 L169.0,143.5 L175.7,134.8 L182.4,125.5 L189.0,114.6 L195.7,99.5 M131.8,242.0 L138.5,217.0 L145.2,192.3 L151.8,175.2 L158.5,162.8 L165.1,152.8 L171.8,143.8 L178.5,135.1 L185.1,125.8 L191.8,114.9 L198.4,99.7 M134.7,242.7 L141.3,217.6 L148.0,192.6 L154.6,175.4 L161.3,163.0 L167.9,153.0 L174.6,144.0 L181.2,135.3 L187.9,126.1 L194.5,115.1 L201.2,99.8" fill="none" stroke="rgba(165,165,165,0.5)" stroke-width="0.5"/>
<path d="M21.4,202.9 L24.2,203.5 L26.9,204.2 L29.7,204.9 L32.5,205.6 L35.2,206.2 L38.0,206.9 L40.8,207.6 L43.5,208.2 L46.3,208.8 L49.1,209.3 L51.9,209.9 L54.7,210.3 L57.5,210.8 L60.3,211.3 L63.1,211.7 L65.9,212.1 L68.8,212.6 L71.6,213.0 L74.4,213.4 L77.2,213.7 L80.0,214.1 L82.8,214.5 L85.7,214.9 L88.5,215.3 L91.3,215.6 L94.1,216.0 L96.9,216.3 L99.8,216.7 L102.6,217.0 L105.4,217.3 L108.2,217.7 L111.1,218.0 L113.9,218.3 L116.7,218.6 L119.6,218.9 L122.4,219.3 L125.2,219.6 L128.0,219.8 L130.9,220.1 L133.7,220.4 L135.4,213.6 L137.2,208.9 L138.9,204.7 L140.7,200.6 L142.4,196.6 L144.1,192.5 L145.9,188.3 L147.6,184.2 L149.4,180.2 L151.1,176.4 L152.8,172.7 L154.6,169.3 L156.3,166.2 L158.1,163.2 L159.8,160.5 L161.5,157.9 L163.3,155.5 L165.0,153.2 L166.8,151.0 L168.5,148.9 L170.2,146.9 L172.0,144.9 L173.7,143.0 L175.5,141.0 L177.2,139.1 L178.9,137.2 L180.7,135.2 L182.4,133.1 L184.2,131.0 L185.9,128.8 L187.6,126.4 L189.4,123.9 L191.1,121.1 L192.9,117.9 L194.6,114.4 L196.3,110.4 L198.1,105.9 L199.8,101.3 L201.6,97.2 L203.3,93.9 L200.5,93.6 L197.7,93.2 L195.0,92.9 L192.2,92.6 L189.4,92.2 L186.6,91.9 L183.9,91.6 L181.1,91.2 L178.3,90.9 L175.5,90.6 L172.7,90.2 L170.0,89.9 L167.2,89.6 L164.4,89.2 L161.6,88.9 L158.9,88.6 L156.1,88.2 L153.3,87.9 L150.5,87.6 L147.8,87.2 L145.0,86.9 L142.2,86.6 L139.4,86.3 L136.6,85.9 L133.9,85.6 L131.1,85.3 L128.3,84.9 L125.5,84.6 L122.8,84.3 L120.0,83.9 L117.2,83.6 L114.4,83.3 L111.6,82.9 L108.9,82.6 L106.1,82.3 L103.3,81.9 L100.5,81.6 L97.8,81.3 L95.0,80.9 L92.2,80.6 L90.4,83.7 L88.7,86.6 L86.9,89.4 L85.1,92.1 L83.3,94.8 L81.6,97.4 L79.8,100.0 L78.0,102.5 L76.3,105.0 L74.5,107.5 L72.7,109.9 L71.0,112.4 L69.2,114.8 L67.4,117.3 L65.6,119.8 L63.9,122.2 L62.1,124.7 L60.3,127.3 L58.6,129.8 L56.8,132.4 L55.0,135.0 L53.3,137.7 L51.5,140.4 L49.7,143.2 L48.0,146.1 L46.2,149.0 L44.4,152.0 L42.6,155.1 L40.9,158.2 L39.1,161.5 L37.3,164.9 L35.6,168.5 L33.8,172.1 L32.0,176.0 L30.3,179.9 L28.5,184.1 L26.7,188.5 L24.9,193.1 L23.2,197.9 L21.4,202.9Z" fill="#0b7d0b"/>
<path d="M23.2,197.9 L34.2,200.3 L45.3,202.7 L56.5,204.7 L67.7,206.3 L79.0,207.8 L90.2,209.1 L101.5,210.4 L112.8,211.5 L124.1,212.6 L135.4,213.6 M24.9,193.1 L36.0,195.5 L47.1,197.9 L58.2,199.9 L69.5,201.5 L80.7,203.0 L92.0,204.3 L103.3,205.6 L114.6,206.8 L125.9,207.9 L137.2,208.9 M26.7,188.5 L37.8,190.9 L48.9,193.4 L60.0,195.4 L71.2,197.0 L82.5,198.5 L93.8,199.9 L105.0,201.2 L116.3,202.4 L127.6,203.6 L138.9,204.7 M28.5,184.1 L39.5,186.6 L50.6,189.0 L61.8,191.0 L73.0,192.7 L84.3,194.2 L95.5,195.7 L106.8,197.0 L118.1,198.3 L129.4,199.5 L140.7,200.6 M30.3,179.9 L41.3,182.4 L52.4,184.8 L63.6,186.8 L74.8,188.5 L86.0,190.1 L97.3,191.5 L108.5,192.9 L119.8,194.2 L131.1,195.4 L142.4,196.6 M32.0,176.0 L43.1,178.4 L54.2,180.8 L65.3,182.8 L76.5,184.5 L87.8,186.0 L99.0,187.4 L110.3,188.8 L121.6,190.1 L132.9,191.3 L144.1,192.5 M33.8,172.1 L44.9,174.5 L55.9,176.8 L67.1,178.8 L78.3,180.5 L89.5,182.0 L100.8,183.4 L112.1,184.7 L123.3,186.0 L134.6,187.2 L145.9,188.3 M35.6,168.5 L46.6,170.8 L57.7,173.0 L68.9,175.0 L80.1,176.6 L91.3,178.0 L102.6,179.4 L113.8,180.7 L125.1,182.0 L136.3,183.2 L147.6,184.2 M37.3,164.9 L48.4,167.2 L59.5,169.4 L70.6,171.2 L81.8,172.8 L93.1,174.2 L104.3,175.6 L115.6,176.8 L126.8,178.0 L138.1,179.2 L149.4,180.2 M39.1,161.5 L50.2,163.7 L61.3,165.8 L72.4,167.6 L83.6,169.2 L94.8,170.5 L106.1,171.8 L117.3,173.1 L128.6,174.2 L139.8,175.3 L151.1,176.4 M40.9,158.2 L51.9,160.4 L63.0,162.4 L74.2,164.2 L85.4,165.7 L96.6,167.0 L107.8,168.3 L119.1,169.5 L130.3,170.6 L141.6,171.7 L152.8,172.7 M42.6,155.1 L53.7,157.1 L64.8,159.2 L76.0,160.9 L87.1,162.3 L98.4,163.7 L109.6,164.9 L120.8,166.1 L132.1,167.2 L143.3,168.3 L154.6,169.3 M44.4,152.0 L55.5,154.0 L66.6,156.0 L77.7,157.7 L88.9,159.2 L100.1,160.5 L111.4,161.7 L122.6,162.9 L133.8,164.0 L145.1,165.1 L156.3,166.2 M46.2,149.0 L57.3,151.0 L68.3,153.0 L79.5,154.7 L90.7,156.1 L101.9,157.5 L113.1,158.7 L124.3,159.9 L135.6,161.1 L146.8,162.2 L158.1,163.2 M48.0,146.1 L59.0,148.1 L70.1,150.1 L81.3,151.8 L92.5,153.2 L103.7,154.6 L114.9,155.9 L126.1,157.1 L137.3,158.3 L148.6,159.4 L159.8,160.5 M49.7,143.2 L60.8,145.2 L71.9,147.2 L83.0,148.9 L94.2,150.4 L105.4,151.8 L116.6,153.1 L127.9,154.4 L139.1,155.6 L150.3,156.8 L161.5,157.9 M51.5,140.4 L62.6,142.5 L73.7,144.5 L84.8,146.2 L96.0,147.7 L107.2,149.2 L118.4,150.5 L129.6,151.8 L140.8,153.1 L152.0,154.3 L163.3,155.5 M53.3,137.7 L64.3,139.8 L75.4,141.8 L86.6,143.6 L97.8,145.1 L108.9,146.6 L120.2,148.0 L131.4,149.4 L142.6,150.7 L153.8,152.0 L165.0,153.2 M55.0,135.0 L66.1,137.1 L77.2,139.2 L88.3,141.0 L99.5,142.6 L110.7,144.1 L121.9,145.6 L133.1,147.0 L144.3,148.4 L155.5,149.7 L166.8,151.0 M56.8,132.4 L67.9,134.5 L79.0,136.6 L90.1,138.5 L101.3,140.1 L112.5,141.7 L123.7,143.2 L134.9,144.7 L146.1,146.1 L157.3,147.6 L168.5,148.9 M58.6,129.8 L69.7,132.0 L80.7,134.1 L91.9,136.0 L103.1,137.7 L114.2,139.3 L125.4,140.9 L136.6,142.5 L147.8,144.0 L159.0,145.5 L170.2,146.9 M60.3,127.3 L71.4,129.4 L82.5,131.6 L93.7,133.5 L104.8,135.3 L116.0,137.0 L127.2,138.7 L138.4,140.3 L149.6,141.9 L160.8,143.4 L172.0,144.9 M62.1,124.7 L73.2,127.0 L84.3,129.1 L95.4,131.1 L106.6,133.0 L117.8,134.7 L128.9,136.5 L140.1,138.1 L151.3,139.8 L162.5,141.4 L173.7,143.0 M63.9,122.2 L75.0,124.5 L86.1,126.7 L97.2,128.8 L108.4,130.7 L119.5,132.5 L130.7,134.3 L141.9,136.0 L153.1,137.7 L164.3,139.4 L175.5,141.0 M65.6,119.8 L76.7,122.0 L87.8,124.3 L99.0,126.4 L110.1,128.3 L121.3,130.2 L132.5,132.1 L143.6,133.9 L154.8,135.6 L166.0,137.4 L177.2,139.1 M67.4,117.3 L78.5,119.6 L89.6,121.9 L100.7,124.0 L111.9,126.0 L123.1,128.0 L134.2,129.9 L145.4,131.7 L156.6,133.6 L167.8,135.4 L178.9,137.2 M69.2,114.8 L80.3,117.2 L91.4,119.5 L102.5,121.7 L113.7,123.7 L124.8,125.7 L136.0,127.7 L147.2,129.6 L158.3,131.5 L169.5,133.3 L180.7,135.2 M71.0,112.4 L82.1,114.7 L93.2,117.1 L104.3,119.3 L115.4,121.4 L126.6,123.4 L137.7,125.4 L148.9,127.4 L160.1,129.3 L171.2,131.3 L182.4,133.1 M72.7,109.9 L83.8,112.3 L94.9,114.6 L106.1,116.9 L117.2,119.0 L128.3,121.1 L139.5,123.1 L150.7,125.1 L161.8,127.1 L173.0,129.1 L184.2,131.0 M74.5,107.5 L85.6,109.8 L96.7,112.2 L107.8,114.4 L119.0,116.6 L130.1,118.7 L141.3,120.7 L152.4,122.8 L163.6,124.8 L174.7,126.8 L185.9,128.8 M76.3,105.0 L87.4,107.3 L98.5,109.7 L109.6,111.9 L120.7,114.1 L131.9,116.2 L143.0,118.3 L154.2,120.3 L165.3,122.4 L176.5,124.4 L187.6,126.4 M78.0,102.5 L89.1,104.8 L100.2,107.1 L111.4,109.3 L122.5,111.5 L133.6,113.6 L144.8,115.7 L155.9,117.8 L167.1,119.8 L178.2,121.9 L189.4,123.9 M79.8,100.0 L90.9,102.2 L102.0,104.5 L113.1,106.7 L124.3,108.8 L135.4,110.9 L146.5,113.0 L157.7,115.0 L168.8,117.0 L180.0,119.1 L191.1,121.1 M81.6,97.4 L92.7,99.6 L103.8,101.8 L114.9,103.9 L126.0,106.0 L137.2,108.0 L148.3,110.0 L159.4,112.0 L170.6,114.0 L181.7,116.0 L192.9,117.9 M83.3,94.8 L94.5,96.9 L105.6,98.9 L116.7,100.9 L127.8,102.9 L138.9,104.9 L150.1,106.8 L161.2,108.7 L172.3,110.6 L183.5,112.5 L194.6,114.4 M85.1,92.1 L96.2,94.0 L107.3,96.0 L118.4,97.8 L129.6,99.6 L140.7,101.5 L151.8,103.3 L163.0,105.0 L174.1,106.8 L185.2,108.6 L196.3,110.4 M86.9,89.4 L98.0,91.1 L109.1,92.8 L120.2,94.5 L131.3,96.2 L142.5,97.8 L153.6,99.4 L164.7,101.1 L175.8,102.7 L187.0,104.3 L198.1,105.9 M88.7,86.6 L99.8,88.1 L110.9,89.6 L122.0,91.1 L133.1,92.6 L144.2,94.0 L155.3,95.5 L166.5,97.0 L177.6,98.4 L188.7,99.9 L199.8,101.3 M90.4,83.7 L101.5,85.0 L112.6,86.4 L123.8,87.8 L134.9,89.1 L146.0,90.5 L157.1,91.8 L168.2,93.2 L179.3,94.5 L190.4,95.9 L201.6,97.2 M24.2,203.5 L31.3,184.7 L38.3,169.0 L45.4,155.6 L52.5,143.7 L59.6,132.9 L66.7,122.8 L73.7,113.0 L80.8,103.1 L87.9,92.6 L95.0,80.9 M26.9,204.2 L34.0,185.3 L41.1,169.6 L48.2,156.1 L55.3,144.2 L62.3,133.5 L69.4,123.4 L76.5,113.6 L83.6,103.6 L90.7,93.1 L97.8,81.3 M29.7,204.9 L36.8,186.0 L43.9,170.2 L50.9,156.6 L58.0,144.7 L65.1,134.0 L72.2,123.9 L79.3,114.1 L86.4,104.2 L93.4,93.6 L100.5,81.6 M32.5,205.6 L39.5,186.6 L46.6,170.8 L53.7,157.1 L60.8,145.2 L67.9,134.5 L75.0,124.5 L82.1,114.7 L89.1,104.8 L96.2,94.0 L103.3,81.9 M35.2,206.2 L42.3,187.2 L49.4,171.4 L56.5,157.7 L63.6,145.7 L70.7,135.0 L77.7,125.1 L84.8,115.3 L91.9,105.4 L99.0,94.5 L106.1,82.3 M38.0,206.9 L45.1,187.8 L52.2,171.9 L59.3,158.2 L66.3,146.2 L73.4,135.6 L80.5,125.6 L87.6,115.9 L94.7,106.0 L101.8,95.0 L108.9,82.6 M40.8,207.6 L47.8,188.4 L54.9,172.5 L62.0,158.7 L69.1,146.7 L76.2,136.1 L83.3,126.2 L90.4,116.5 L97.5,106.6 L104.6,95.5 L111.6,82.9 M43.5,208.2 L50.6,189.0 L57.7,173.0 L64.8,159.2 L71.9,147.2 L79.0,136.6 L86.1,126.7 L93.2,117.1 L100.2,107.1 L107.3,96.0 L114.4,83.3 M46.3,208.8 L53.4,189.6 L60.5,173.6 L67.6,159.6 L74.7,147.7 L81.8,137.1 L88.8,127.2 L95.9,117.6 L103.0,107.7 L110.1,96.4 L117.2,83.6 M49.1,209.3 L56.2,190.1 L63.3,174.1 L70.4,160.1 L77.5,148.1 L84.5,137.6 L91.6,127.8 L98.7,118.2 L105.8,108.2 L112.9,96.9 L120.0,83.9 M51.9,209.9 L59.0,190.6 L66.1,174.5 L73.2,160.5 L80.2,148.5 L87.3,138.0 L94.4,128.3 L101.5,118.7 L108.6,108.8 L115.7,97.4 L122.8,84.3 M54.7,210.3 L61.8,191.0 L68.9,175.0 L76.0,160.9 L83.0,148.9 L90.1,138.5 L97.2,128.8 L104.3,119.3 L111.4,109.3 L118.4,97.8 L125.5,84.6 M57.5,210.8 L64.6,191.5 L71.7,175.4 L78.7,161.3 L85.8,149.3 L92.9,138.9 L100.0,129.2 L107.1,119.8 L114.1,109.9 L121.2,98.3 L128.3,84.9 M60.3,211.3 L67.4,191.9 L74.5,175.8 L81.5,161.6 L88.6,149.7 L95.7,139.3 L102.8,129.7 L109.9,120.3 L116.9,110.4 L124.0,98.7 L131.1,85.3 M63.1,211.7 L70.2,192.3 L77.3,176.2 L84.3,162.0 L91.4,150.1 L98.5,139.7 L105.6,130.2 L112.6,120.8 L119.7,111.0 L126.8,99.2 L133.9,85.6 M65.9,212.1 L73.0,192.7 L80.1,176.6 L87.1,162.3 L94.2,150.4 L101.3,140.1 L108.4,130.7 L115.4,121.4 L122.5,111.5 L129.6,99.6 L136.6,85.9 M68.8,212.6 L75.8,193.1 L82.9,176.9 L90.0,162.7 L97.0,150.8 L104.1,140.5 L111.2,131.1 L118.2,121.9 L125.3,112.0 L132.4,100.1 L139.4,86.3 M71.6,213.0 L78.6,193.5 L85.7,177.3 L92.8,163.0 L99.8,151.1 L106.9,140.9 L113.9,131.6 L121.0,122.4 L128.1,112.6 L135.1,100.6 L142.2,86.6 M74.4,213.4 L81.4,193.9 L88.5,177.7 L95.6,163.3 L102.6,151.5 L109.7,141.3 L116.7,132.0 L123.8,122.9 L130.9,113.1 L137.9,101.0 L145.0,86.9 M77.2,213.7 L84.3,194.2 L91.3,178.0 L98.4,163.7 L105.4,151.8 L112.5,141.7 L119.5,132.5 L126.6,123.4 L133.6,113.6 L140.7,101.5 L147.8,87.3 M80.0,214.1 L87.1,194.6 L94.1,178.4 L101.2,164.0 L108.2,152.1 L115.3,142.1 L122.3,132.9 L129.4,123.9 L136.4,114.1 L143.5,101.9 L150.5,87.6 M82.8,214.5 L89.9,195.0 L96.9,178.7 L104.0,164.3 L111.0,152.5 L118.1,142.5 L125.1,133.4 L132.2,124.4 L139.2,114.6 L146.3,102.4 L153.3,87.9 M85.7,214.9 L92.7,195.3 L99.7,179.1 L106.8,164.6 L113.8,152.8 L120.9,142.9 L127.9,133.8 L135.0,124.9 L142.0,115.2 L149.0,102.8 L156.1,88.2 M88.5,215.3 L95.5,195.7 L102.6,179.4 L109.6,164.9 L116.6,153.1 L123.7,143.2 L130.7,134.3 L137.7,125.4 L144.8,115.7 L151.8,103.3 L158.9,88.6 M91.3,215.6 L98.3,196.0 L105.4,179.8 L112.4,165.2 L119.4,153.5 L126.5,143.6 L133.5,134.7 L140.5,125.9 L147.6,116.2 L154.6,103.7 L161.6,88.9 M94.1,216.0 L101.2,196.4 L108.2,180.1 L115.2,165.5 L122.2,153.8 L129.3,144.0 L136.3,135.1 L143.3,126.4 L150.4,116.7 L157.4,104.2 L164.4,89.2 M96.9,216.3 L104.0,196.7 L111.0,180.4 L118.0,165.8 L125.0,154.1 L132.1,144.4 L139.1,135.6 L146.1,126.9 L153.1,117.2 L160.2,104.6 L167.2,89.6 M99.8,216.7 L106.8,197.0 L113.8,180.7 L120.8,166.1 L127.9,154.4 L134.9,144.7 L141.9,136.0 L148.9,127.4 L155.9,117.8 L163.0,105.0 L170.0,89.9 M102.6,217.0 L109.6,197.3 L116.6,181.0 L123.6,166.4 L130.7,154.7 L137.7,145.1 L144.7,136.4 L151.7,127.9 L158.7,118.3 L165.7,105.5 L172.7,90.2 M105.4,217.3 L112.4,197.7 L119.4,181.3 L126.5,166.7 L133.5,155.0 L140.5,145.4 L147.5,136.9 L154.5,128.3 L161.5,118.8 L168.5,105.9 L175.5,90.6 M108.2,217.7 L115.3,198.0 L122.3,181.6 L129.3,167.0 L136.3,155.3 L143.3,145.8 L150.3,137.3 L157.3,128.8 L164.3,119.3 L171.3,106.4 L178.3,90.9 M111.1,218.0 L118.1,198.3 L125.1,182.0 L132.1,167.2 L139.1,155.6 L146.1,146.1 L153.1,137.7 L160.1,129.3 L167.1,119.8 L174.1,106.8 L181.1,91.2 M113.9,218.3 L120.9,198.6 L127.9,182.3 L134.9,167.5 L141.9,155.9 L148.9,146.5 L155.9,138.1 L162.9,129.8 L169.9,120.3 L176.9,107.3 L183.9,91.6 M116.7,218.6 L123.7,198.9 L130.7,182.6 L137.7,167.8 L144.7,156.2 L151.7,146.9 L158.7,138.6 L165.7,130.3 L172.7,120.8 L179.6,107.7 L186.6,91.9 M119.6,218.9 L126.5,199.2 L133.5,182.9 L140.5,168.1 L147.5,156.5 L154.5,147.2 L161.5,139.0 L168.5,130.8 L175.4,121.4 L182.4,108.2 L189.4,92.2 M122.4,219.3 L129.4,199.5 L136.3,183.2 L143.3,168.3 L150.3,156.8 L157.3,147.6 L164.3,139.4 L171.2,131.3 L178.2,121.9 L185.2,108.6 L192.2,92.6 M125.2,219.6 L132.2,199.8 L139.2,183.4 L146.1,168.6 L153.1,157.1 L160.1,147.9 L167.1,139.8 L174.0,131.7 L181.0,122.4 L188.0,109.0 L195.0,92.9 M128.0,219.8 L135.0,200.1 L142.0,183.7 L149.0,168.8 L155.9,157.3 L162.9,148.2 L169.9,140.2 L176.8,132.2 L183.8,122.9 L190.8,109.5 L197.7,93.2 M130.9,220.1 L137.8,200.3 L144.8,184.0 L151.8,169.1 L158.7,157.6 L165.7,148.6 L172.7,140.6 L179.6,132.7 L186.6,123.4 L193.6,109.9 L200.5,93.6" fill="none" stroke="rgba(165,165,165,0.5)" stroke-width="0.5"/>
<path d="M203.9,84.4 L213.0,203.0 L139.4,266.3 L26.7,237.0 M203.9,84.4 l2.2,0 M205.3,102.3 l2.2,0 M206.6,119.9 l2.2,0 M208.0,137.2 l2.2,0 M209.3,154.1 l2.2,0 M210.5,170.8 l2.2,0 M211.8,187.0 l2.2,0 M213.0,203.0 l2.2,0 M26.7,237.0 l0.3,-2 M50.1,243.1 l0.3,-2 M74.9,249.5 l0.3,-2 M99.8,256.0 l0.3,-2 M126.1,262.8 l0.3,-2 M38.5,240.1 l0.2,-1.3 M62.8,246.4 l0.2,-1.3 M87.6,252.8 l0.2,-1.3 M113.3,259.5 l0.2,-1.3 M146.1,260.5 l-1.6,-1 M160.7,247.9 l-1.6,-1 M176.2,234.7 l-1.6,-1 M190.6,222.3 l-1.6,-1 M204.7,210.2 l-1.6,-1" fill="none" stroke="#1a1a1a" stroke-width="1.2"/>
<text transform="translate(208.7,89.5) skewX(-11) scale(0.87,1)" font-size="12">1900</text>
<text transform="translate(210.1,107.4) skewX(-11) scale(0.87,1)" font-size="12">1800</text>
<text transform="translate(211.4,125.0) skewX(-11) scale(0.87,1)" font-size="12">1700</text>
<text transform="translate(212.8,142.3) skewX(-11) scale(0.87,1)" font-size="12">1600</text>
<text transform="translate(214.1,159.2) skewX(-11) scale(0.87,1)" font-size="12">1500</text>
<text transform="translate(215.3,175.9) skewX(-11) scale(0.87,1)" font-size="12">1400</text>
<text transform="translate(216.6,192.1) skewX(-11) scale(0.87,1)" font-size="12">1300</text>
<text transform="translate(217.8,208.1) skewX(-11) scale(0.87,1)" font-size="12">1200</text>
<text transform="translate(264.6,222.5) rotate(-92.18)" font-size="12.85">Equilibrium Temperature (K)</text>
<text class="it" transform="translate(20.2,245.4) rotate(14)" text-anchor="middle" font-size="10.6" y="3.4">10</text>
<text class="it" transform="translate(44.5,253.6) rotate(14)" text-anchor="middle" font-size="10.6" y="3.4">8</text>
<text class="it" transform="translate(67.5,259.5) rotate(14)" text-anchor="middle" font-size="10.6" y="3.4">6</text>
<text class="it" transform="translate(93.7,266.6) rotate(14)" text-anchor="middle" font-size="10.6" y="3.4">4</text>
<text class="it" transform="translate(118.3,273) rotate(14)" text-anchor="middle" font-size="10.6" y="3.4">2</text>
<text transform="matrix(1,0.354,0.08,1,22.5,263.2)" font-size="12.2">Pressure (atm)</text>
<text class="it" transform="translate(158.5,269.8) rotate(16)" text-anchor="middle" font-size="10" y="3.2">0.6</text>
<text class="it" transform="translate(175.3,253.8) rotate(16)" text-anchor="middle" font-size="10" y="3.2">0.9</text>
<text class="it" transform="translate(189.8,241.8) rotate(16)" text-anchor="middle" font-size="10" y="3.2">1.2</text>
<text class="it" transform="translate(202.8,225.8) rotate(16)" text-anchor="middle" font-size="10" y="3.2">1.5</text>
<text class="it" transform="translate(218,215.4) rotate(16)" text-anchor="middle" font-size="10" y="3.2">1.8</text>
<g transform="translate(213.2,251.4) rotate(32.5)">
<line x1="-10" y1="0" x2="10" y2="0" stroke="#111" stroke-width="1.3"/>
<text class="it" x="0" y="-4.9" text-anchor="middle" font-size="10.5">O<tspan font-size="7.3" dy="2.6">2</tspan></text>
<text class="it" x="0" y="12.4" text-anchor="middle" font-size="10.5">CH<tspan font-size="7.3" dy="2.6">4</tspan></text>
</g>
<text x="17.6" y="129" font-size="19.5">a)</text>

<path d="M287.4,122.3 L373.3,76.0 L486.7,89.8 M290.3,137.8 L375.3,90.6 L487.8,105.3 M293.1,153.2 L377.3,105.1 L488.9,120.6 M295.9,168.3 L379.3,119.4 L489.9,135.7 M298.7,183.2 L381.3,133.4 L491.0,150.6 M301.4,198.0 L383.2,147.3 L492.0,165.3 M304.1,212.5 L385.1,161.0 L493.0,179.7 M292.4,102.4 L314.0,222.0 L427.3,251.5 M309.6,93.3 L330.0,211.6 L441.9,238.9 M327.9,83.8 L346.9,200.7 L457.3,225.7 M344.8,74.9 L362.5,190.5 L471.6,213.3 M361.4,66.2 L377.9,180.4 L485.7,201.2 M395.4,63.8 L409.6,178.6 L330.8,233.3 M420.3,66.7 L432.9,182.9 L355.6,239.9 M445.7,69.6 L456.7,187.2 L380.8,246.7 M472.4,72.6 L481.7,191.8 L407.5,253.8" fill="none" stroke="#d9d9d9" stroke-width="0.8"/>
<path d="M371.2,61.1 L387.0,174.5 M306.7,226.8 L387.0,174.5 L494.0,194.0" fill="none" stroke="#b8b8b8" stroke-width="1"/>
<path d="M306.7,226.8 L284.5,106.5 L371.2,61.1 L485.6,74.1" fill="none" stroke="#484848" stroke-width="1.25"/>
<path d="M305.8,212.1 L308.7,213.0 L311.5,213.9 L314.4,214.8 L317.3,215.8 L320.1,216.7 L323.0,217.6 L325.8,218.5 L328.7,219.4 L331.6,220.3 L334.5,221.2 L337.3,222.1 L340.2,222.9 L343.1,223.8 L346.0,224.7 L348.8,225.6 L351.7,226.4 L354.6,227.3 L357.5,228.2 L360.3,229.1 L363.2,230.0 L366.1,230.9 L368.9,231.8 L371.8,232.7 L374.7,233.6 L377.5,234.5 L380.4,235.4 L383.3,236.3 L386.1,237.2 L389.0,238.2 L391.8,239.1 L394.7,240.1 L397.5,241.0 L400.4,242.0 L403.2,243.0 L406.0,244.1 L408.8,245.2 L411.6,246.3 L414.4,247.4 L417.2,248.5 L420.0,249.6 L421.7,242.7 L423.4,236.2 L425.1,230.2 L426.8,224.4 L428.5,219.0 L430.2,213.7 L431.8,208.6 L433.5,203.8 L435.2,199.1 L436.9,194.6 L438.6,190.3 L440.3,186.2 L442.0,182.3 L443.7,178.5 L445.4,174.9 L447.1,171.5 L448.8,168.3 L450.5,165.2 L452.2,162.3 L453.8,159.5 L455.5,156.8 L457.2,154.3 L458.9,151.8 L460.6,149.5 L462.3,147.2 L464.0,145.0 L465.7,142.8 L467.4,140.8 L469.1,138.7 L470.8,136.7 L472.5,134.7 L474.2,132.7 L475.9,130.6 L477.5,128.6 L479.2,126.4 L480.9,124.2 L482.6,121.8 L484.3,119.2 L486.0,116.3 L487.7,112.6 L485.0,112.5 L482.3,112.4 L479.6,112.3 L476.9,112.2 L474.3,112.1 L471.6,112.0 L468.9,111.9 L466.2,111.8 L463.5,111.7 L460.8,111.6 L458.1,111.5 L455.4,111.4 L452.8,111.3 L450.1,111.2 L447.4,111.1 L444.7,111.0 L442.0,110.9 L439.3,110.8 L436.6,110.7 L433.9,110.6 L431.3,110.5 L428.6,110.4 L425.9,110.3 L423.2,110.2 L420.5,110.1 L417.8,110.0 L415.1,109.9 L412.4,109.8 L409.8,109.7 L407.1,109.6 L404.4,109.5 L401.7,109.4 L399.0,109.3 L396.3,109.2 L393.6,109.1 L390.9,109.0 L388.3,108.9 L385.6,108.8 L382.9,108.7 L380.2,108.6 L378.3,111.9 L376.5,114.9 L374.6,117.6 L372.8,120.1 L370.9,122.4 L369.0,124.7 L367.2,126.8 L365.3,128.9 L363.5,130.9 L361.6,132.9 L359.7,134.8 L357.9,136.8 L356.0,138.7 L354.2,140.6 L352.3,142.6 L350.4,144.5 L348.6,146.5 L346.7,148.5 L344.9,150.5 L343.0,152.6 L341.1,154.7 L339.3,156.9 L337.4,159.2 L335.6,161.5 L333.7,163.9 L331.8,166.4 L330.0,169.0 L328.1,171.7 L326.3,174.5 L324.4,177.4 L322.5,180.5 L320.7,183.6 L318.8,186.9 L317.0,190.3 L315.1,193.9 L313.2,197.5 L311.4,201.1 L309.5,204.8 L307.7,208.5 L305.8,212.1Z" fill="#8b1414"/>
<path d="M307.7,208.5 L319.1,211.8 L330.5,215.1 L342.0,218.4 L353.5,221.5 L365.0,224.8 L376.4,228.0 L387.9,231.4 L399.3,234.8 L410.5,238.6 L421.7,242.7 M309.5,204.8 L320.9,207.9 L332.4,210.9 L343.8,213.9 L355.3,216.8 L366.7,219.7 L378.2,222.7 L389.6,225.8 L401.0,229.0 L412.2,232.4 L423.4,236.2 M311.4,201.1 L322.8,204.0 L334.2,206.8 L345.6,209.5 L357.1,212.2 L368.5,214.9 L379.9,217.6 L391.3,220.5 L402.7,223.4 L413.9,226.6 L425.1,230.2 M313.2,197.5 L324.6,200.1 L336.0,202.7 L347.4,205.2 L358.9,207.7 L370.3,210.2 L381.7,212.7 L393.1,215.4 L404.4,218.1 L415.6,221.1 L426.8,224.4 M315.1,193.9 L326.5,196.3 L337.8,198.7 L349.2,201.0 L360.6,203.3 L372.0,205.7 L383.4,208.0 L394.8,210.5 L406.1,213.0 L417.3,215.8 L428.5,219.0 M317.0,190.3 L328.3,192.6 L339.7,194.8 L351.0,197.0 L362.4,199.1 L373.8,201.3 L385.2,203.5 L396.5,205.8 L407.8,208.1 L419.0,210.8 L430.2,213.7 M318.8,186.9 L330.1,189.0 L341.5,191.1 L352.8,193.1 L364.2,195.1 L375.6,197.1 L386.9,199.1 L398.3,201.2 L409.6,203.4 L420.7,205.9 L431.8,208.6 M320.7,183.6 L332.0,185.6 L343.3,187.5 L354.7,189.3 L366.0,191.2 L377.3,193.0 L388.7,194.9 L400.0,196.8 L411.3,198.9 L422.5,201.2 L433.5,203.8 M322.5,180.5 L333.8,182.2 L345.1,184.0 L356.5,185.7 L367.8,187.4 L379.1,189.1 L390.4,190.9 L401.7,192.7 L413.0,194.5 L424.2,196.7 L435.2,199.1 M324.4,177.4 L335.7,179.1 L347.0,180.7 L358.3,182.3 L369.6,183.8 L380.9,185.4 L392.2,187.0 L403.5,188.6 L414.7,190.4 L425.9,192.4 L436.9,194.6 M326.3,174.5 L337.5,176.0 L348.8,177.5 L360.1,178.9 L371.4,180.3 L382.7,181.8 L393.9,183.2 L405.2,184.8 L416.4,186.4 L427.6,188.2 L438.6,190.3 M328.1,171.7 L339.4,173.1 L350.6,174.4 L361.9,175.7 L373.2,177.0 L384.4,178.3 L395.7,179.7 L406.9,181.1 L418.1,182.5 L429.3,184.3 L440.3,186.2 M330.0,169.0 L341.2,170.3 L352.4,171.5 L363.7,172.7 L374.9,173.9 L386.2,175.0 L397.4,176.3 L408.7,177.5 L419.9,178.9 L431.0,180.5 L442.0,182.3 M331.8,166.4 L343.0,167.6 L354.3,168.7 L365.5,169.8 L376.7,170.8 L388.0,171.9 L399.2,173.0 L410.4,174.2 L421.6,175.4 L432.7,176.8 L443.7,178.5 M333.7,163.9 L344.9,165.0 L356.1,166.0 L367.3,167.0 L378.5,167.9 L389.7,168.9 L400.9,169.9 L412.1,170.9 L423.3,172.1 L434.4,173.4 L445.4,174.9 M335.6,161.5 L346.7,162.5 L357.9,163.4 L369.1,164.3 L380.3,165.1 L391.5,166.0 L402.7,166.9 L413.9,167.9 L425.0,168.9 L436.1,170.1 L447.1,171.5 M337.4,159.2 L348.6,160.0 L359.7,160.9 L370.9,161.7 L382.1,162.5 L393.3,163.3 L404.4,164.1 L415.6,164.9 L426.7,165.9 L437.8,167.0 L448.8,168.3 M339.3,156.9 L350.4,157.7 L361.6,158.5 L372.7,159.2 L383.9,159.9 L395.0,160.6 L406.2,161.4 L417.3,162.1 L428.4,163.0 L439.5,164.0 L450.5,165.2 M341.1,154.7 L352.3,155.5 L363.4,156.2 L374.5,156.8 L385.7,157.4 L396.8,158.1 L407.9,158.7 L419.1,159.5 L430.2,160.2 L441.2,161.2 L452.2,162.3 M343.0,152.6 L354.1,153.3 L365.2,153.9 L376.3,154.5 L387.5,155.0 L398.6,155.6 L409.7,156.2 L420.8,156.9 L431.9,157.6 L442.9,158.5 L453.8,159.5 M344.9,150.5 L355.9,151.1 L367.0,151.7 L378.1,152.2 L389.2,152.7 L400.3,153.3 L411.4,153.8 L422.5,154.4 L433.6,155.1 L444.6,155.9 L455.5,156.8 M346.7,148.5 L357.8,149.0 L368.9,149.6 L379.9,150.0 L391.0,150.5 L402.1,151.0 L413.2,151.5 L424.3,152.0 L435.3,152.6 L446.3,153.4 L457.2,154.3 M348.6,146.5 L359.6,147.0 L370.7,147.5 L381.7,147.9 L392.8,148.4 L403.9,148.8 L414.9,149.3 L426.0,149.8 L437.0,150.3 L448.0,151.0 L458.9,151.8 M350.4,144.5 L361.5,145.0 L372.5,145.4 L383.6,145.8 L394.6,146.2 L405.6,146.7 L416.7,147.1 L427.7,147.5 L438.7,148.1 L449.7,148.7 L460.6,149.5 M352.3,142.6 L363.3,143.0 L374.3,143.4 L385.4,143.8 L396.4,144.2 L407.4,144.6 L418.4,145.0 L429.5,145.4 L440.5,145.9 L451.4,146.5 L462.3,147.2 M354.2,140.6 L365.2,141.0 L376.2,141.4 L387.2,141.8 L398.2,142.1 L409.2,142.5 L420.2,142.9 L431.2,143.3 L442.2,143.7 L453.1,144.3 L464.0,145.0 M356.0,138.7 L367.0,139.1 L378.0,139.5 L389.0,139.8 L400.0,140.2 L411.0,140.5 L421.9,140.9 L432.9,141.2 L443.9,141.7 L454.8,142.2 L465.7,142.8 M357.9,136.8 L368.8,137.2 L379.8,137.5 L390.8,137.9 L401.8,138.2 L412.7,138.5 L423.7,138.9 L434.7,139.2 L445.6,139.6 L456.5,140.1 L467.4,140.8 M359.7,134.8 L370.7,135.2 L381.6,135.6 L392.6,135.9 L403.5,136.2 L414.5,136.5 L425.4,136.9 L436.4,137.2 L447.3,137.6 L458.2,138.1 L469.1,138.7 M361.6,132.9 L372.5,133.2 L383.5,133.6 L394.4,133.9 L405.3,134.2 L416.3,134.6 L427.2,134.9 L438.1,135.3 L449.0,135.7 L459.9,136.1 L470.8,136.7 M363.5,130.9 L374.4,131.3 L385.3,131.6 L396.2,131.9 L407.1,132.3 L418.0,132.6 L428.9,132.9 L439.9,133.3 L450.8,133.7 L461.6,134.1 L472.5,134.7 M365.3,128.9 L376.2,129.2 L387.1,129.6 L398.0,129.9 L408.9,130.3 L419.8,130.6 L430.7,130.9 L441.6,131.3 L452.5,131.7 L463.3,132.1 L474.2,132.7 M367.2,126.8 L378.1,127.2 L388.9,127.5 L399.8,127.9 L410.7,128.2 L421.6,128.6 L432.4,128.9 L443.3,129.3 L454.2,129.7 L465.0,130.1 L475.9,130.6 M369.0,124.7 L379.9,125.0 L390.8,125.4 L401.6,125.8 L412.5,126.1 L423.3,126.5 L434.2,126.9 L445.1,127.2 L455.9,127.6 L466.7,128.1 L477.5,128.6 M370.9,122.4 L381.7,122.8 L392.6,123.2 L403.4,123.6 L414.3,124.0 L425.1,124.3 L435.9,124.7 L446.8,125.1 L457.6,125.5 L468.4,126.0 L479.2,126.4 M372.8,120.1 L383.6,120.5 L394.4,120.9 L405.2,121.3 L416.1,121.7 L426.9,122.1 L437.7,122.5 L448.5,122.9 L459.3,123.3 L470.1,123.7 L480.9,124.2 M374.6,117.6 L385.4,118.0 L396.2,118.4 L407.0,118.8 L417.8,119.2 L428.6,119.6 L439.4,120.1 L450.3,120.5 L461.1,120.9 L471.8,121.4 L482.6,121.8 M376.5,114.9 L387.3,115.3 L398.1,115.7 L408.8,116.2 L419.6,116.6 L430.4,117.0 L441.2,117.4 L452.0,117.9 L462.8,118.3 L473.5,118.8 L484.3,119.2 M378.3,111.9 L389.1,112.4 L399.9,112.8 L410.6,113.2 L421.4,113.6 L432.2,114.1 L442.9,114.5 L453.7,114.9 L464.5,115.4 L475.2,115.8 L486.0,116.3 M308.7,213.0 L316.1,198.1 L323.5,184.1 L330.9,172.0 L338.4,161.7 L345.8,152.8 L353.2,144.6 L360.6,136.9 L368.0,129.0 L375.5,120.2 L382.9,108.7 M311.5,213.9 L318.9,198.8 L326.3,184.6 L333.7,172.4 L341.1,162.0 L348.6,152.9 L356.0,144.8 L363.4,137.0 L370.8,129.1 L378.2,120.3 L385.6,108.8 M314.4,214.8 L321.8,199.4 L329.2,185.1 L336.6,172.7 L343.9,162.2 L351.3,153.1 L358.7,144.9 L366.1,137.1 L373.5,129.2 L380.9,120.4 L388.3,108.9 M317.3,215.8 L324.6,200.1 L332.0,185.6 L339.4,173.1 L346.7,162.5 L354.1,153.3 L361.5,145.0 L368.8,137.2 L376.2,129.2 L383.6,120.5 L390.9,109.0 M320.1,216.7 L327.5,200.7 L334.8,186.1 L342.2,173.4 L349.5,162.7 L356.9,153.4 L364.2,145.1 L371.6,137.2 L378.9,129.3 L386.3,120.6 L393.6,109.1 M323.0,217.6 L330.3,201.4 L337.6,186.5 L345.0,173.8 L352.3,162.9 L359.7,153.6 L367.0,145.2 L374.3,137.3 L381.7,129.4 L389.0,120.7 L396.3,109.2 M325.8,218.5 L333.2,202.0 L340.5,187.0 L347.8,174.1 L355.1,163.2 L362.4,153.7 L369.7,145.3 L377.1,137.4 L384.4,129.5 L391.7,120.8 L399.0,109.3 M328.7,219.4 L336.0,202.7 L343.3,187.5 L350.6,174.4 L357.9,163.4 L365.2,153.9 L372.5,145.4 L379.8,137.5 L387.1,129.6 L394.4,120.9 L401.7,109.4 M331.6,220.3 L338.9,203.3 L346.1,188.0 L353.4,174.8 L360.7,163.6 L368.0,154.0 L375.3,145.5 L382.5,137.6 L389.8,129.7 L397.1,121.0 L404.4,109.5 M334.5,221.2 L341.7,204.0 L349.0,188.4 L356.2,175.1 L363.5,163.8 L370.8,154.2 L378.0,145.6 L385.3,137.7 L392.6,129.8 L399.8,121.1 L407.1,109.6 M337.3,222.1 L344.6,204.6 L351.8,188.9 L359.1,175.4 L366.3,164.1 L373.5,154.3 L380.8,145.7 L388.0,137.8 L395.3,129.9 L402.5,121.2 L409.8,109.7 M340.2,222.9 L347.4,205.2 L354.7,189.3 L361.9,175.7 L369.1,164.3 L376.3,154.5 L383.6,145.8 L390.8,137.9 L398.0,129.9 L405.2,121.3 L412.4,109.8 M343.1,223.8 L350.3,205.8 L357.5,189.8 L364.7,176.1 L371.9,164.5 L379.1,154.6 L386.3,145.9 L393.5,137.9 L400.7,130.0 L407.9,121.4 L415.1,109.9 M346.0,224.7 L353.1,206.4 L360.3,190.3 L367.5,176.4 L374.7,164.7 L381.9,154.8 L389.1,146.0 L396.3,138.0 L403.5,130.1 L410.6,121.5 L417.8,110.0 M348.8,225.6 L356.0,207.1 L363.2,190.7 L370.3,176.7 L377.5,164.9 L384.7,154.9 L391.8,146.1 L399.0,138.1 L406.2,130.2 L413.3,121.6 L420.5,110.1 M351.7,226.4 L358.9,207.7 L366.0,191.2 L373.2,177.0 L380.3,165.1 L387.5,155.0 L394.6,146.2 L401.8,138.2 L408.9,130.3 L416.1,121.7 L423.2,110.2 M354.6,227.3 L361.7,208.3 L368.8,191.6 L376.0,177.3 L383.1,165.3 L390.2,155.2 L397.4,146.3 L404.5,138.3 L411.6,130.3 L418.8,121.8 L425.9,110.3 M357.5,228.2 L364.6,208.9 L371.7,192.1 L378.8,177.7 L385.9,165.6 L393.0,155.3 L400.1,146.4 L407.2,138.3 L414.4,130.4 L421.5,121.9 L428.6,110.4 M360.3,229.1 L367.4,209.6 L374.5,192.6 L381.6,178.0 L388.7,165.8 L395.8,155.5 L402.9,146.5 L410.0,138.4 L417.1,130.5 L424.2,122.0 L431.3,110.5 M363.2,230.0 L370.3,210.2 L377.3,193.0 L384.4,178.3 L391.5,166.0 L398.6,155.6 L405.6,146.7 L412.7,138.5 L419.8,130.6 L426.9,122.1 L433.9,110.6 M366.1,230.9 L373.1,210.8 L380.2,193.5 L387.2,178.7 L394.3,166.2 L401.4,155.8 L408.4,146.8 L415.5,138.6 L422.5,130.7 L429.6,122.2 L436.6,110.7 M368.9,231.8 L376.0,211.5 L383.0,194.0 L390.0,179.0 L397.1,166.5 L404.1,155.9 L411.2,146.9 L418.2,138.7 L425.2,130.8 L432.3,122.3 L439.3,110.8 M371.8,232.7 L378.8,212.1 L385.8,194.4 L392.9,179.3 L399.9,166.7 L406.9,156.1 L413.9,147.0 L420.9,138.8 L428.0,130.9 L435.0,122.4 L442.0,110.9 M374.7,233.6 L381.7,212.7 L388.7,194.9 L395.7,179.7 L402.7,166.9 L409.7,156.2 L416.7,147.1 L423.7,138.9 L430.7,130.9 L437.7,122.5 L444.7,111.0 M377.5,234.5 L384.5,213.4 L391.5,195.4 L398.5,180.0 L405.5,167.1 L412.5,156.4 L419.4,147.2 L426.4,139.0 L433.4,131.0 L440.4,122.6 L447.4,111.1 M380.4,235.4 L387.4,214.0 L394.3,195.9 L401.3,180.4 L408.3,167.4 L415.2,156.6 L422.2,147.3 L429.2,139.0 L436.1,131.1 L443.1,122.7 L450.1,111.2 M383.3,236.3 L390.2,214.7 L397.2,196.4 L404.1,180.7 L411.1,167.6 L418.0,156.7 L425.0,147.4 L431.9,139.1 L438.9,131.2 L445.8,122.8 L452.8,111.3 M386.1,237.2 L393.1,215.4 L400.0,196.8 L406.9,181.1 L413.9,167.9 L420.8,156.9 L427.7,147.5 L434.7,139.2 L441.6,131.3 L448.5,122.9 L455.4,111.4 M389.0,238.2 L395.9,216.0 L402.8,197.3 L409.7,181.4 L416.6,168.1 L423.6,157.1 L430.5,147.7 L437.4,139.3 L444.3,131.4 L451.2,123.0 L458.1,111.5 M391.8,239.1 L398.7,216.7 L405.6,197.8 L412.5,181.8 L419.4,168.4 L426.3,157.2 L433.2,147.8 L440.1,139.4 L447.0,131.5 L453.9,123.1 L460.8,111.6 M394.7,240.1 L401.6,217.4 L408.5,198.4 L415.3,182.1 L422.2,168.6 L429.1,157.4 L436.0,147.9 L442.9,139.5 L449.7,131.6 L456.6,123.2 L463.5,111.7 M397.5,241.0 L404.4,218.1 L411.3,198.9 L418.1,182.5 L425.0,168.9 L431.9,157.6 L438.7,148.1 L445.6,139.6 L452.5,131.7 L459.3,123.3 L466.2,111.8 M400.4,242.0 L407.2,218.8 L414.1,199.4 L420.9,182.9 L427.8,169.2 L434.6,157.8 L441.5,148.2 L448.3,139.8 L455.2,131.8 L462.0,123.4 L468.9,111.9 M403.2,243.0 L410.0,219.6 L416.9,200.0 L423.7,183.4 L430.6,169.5 L437.4,158.0 L444.2,148.4 L451.1,139.9 L457.9,131.9 L464.7,123.5 L471.6,112.0 M406.0,244.1 L412.8,220.3 L419.7,200.6 L426.5,183.8 L433.3,169.8 L440.1,158.2 L447.0,148.5 L453.8,140.0 L460.6,132.0 L467.4,123.6 L474.3,112.1 M408.8,245.2 L415.6,221.1 L422.5,201.2 L429.3,184.3 L436.1,170.1 L442.9,158.5 L449.7,148.7 L456.5,140.1 L463.3,132.1 L470.1,123.7 L476.9,112.2 M411.6,246.3 L418.4,221.9 L425.2,201.8 L432.0,184.7 L438.8,170.5 L445.6,158.7 L452.4,148.9 L459.2,140.3 L466.0,132.3 L472.8,123.9 L479.6,112.3 M414.4,247.4 L421.2,222.8 L428.0,202.5 L434.8,185.2 L441.6,170.8 L448.4,159.0 L455.2,149.1 L462.0,140.4 L468.7,132.4 L475.5,124.0 L482.3,112.4 M417.2,248.5 L424.0,223.6 L430.8,203.1 L437.5,185.7 L444.3,171.2 L451.1,159.2 L457.9,149.3 L464.7,140.6 L471.5,132.5 L478.2,124.1 L485.0,112.5" fill="none" stroke="rgba(165,165,165,0.5)" stroke-width="0.5"/>
<path d="M303.7,200.5 L306.6,201.1 L309.5,201.7 L312.3,202.4 L315.2,203.0 L318.1,203.6 L321.0,204.2 L323.9,204.9 L326.7,205.5 L329.6,206.2 L332.5,206.9 L335.3,207.6 L338.2,208.3 L341.0,209.0 L343.9,209.7 L346.8,210.4 L349.6,211.1 L352.5,211.9 L355.3,212.6 L358.2,213.3 L361.1,214.0 L363.9,214.7 L366.8,215.5 L369.6,216.2 L372.5,216.9 L375.3,217.6 L378.2,218.4 L381.0,219.1 L383.9,219.8 L386.7,220.6 L389.6,221.3 L392.4,222.1 L395.3,222.8 L398.1,223.6 L401.0,224.4 L403.8,225.2 L406.6,226.1 L409.4,227.0 L412.2,227.9 L415.0,228.9 L417.8,229.8 L419.5,224.0 L421.3,218.8 L423.0,214.0 L424.7,209.3 L426.5,204.7 L428.2,200.2 L429.9,195.7 L431.7,191.2 L433.4,186.9 L435.1,182.7 L436.9,178.7 L438.6,174.9 L440.3,171.3 L442.1,167.9 L443.8,164.7 L445.5,161.6 L447.3,158.8 L449.0,156.0 L450.7,153.5 L452.5,151.0 L454.2,148.7 L455.9,146.5 L457.6,144.3 L459.4,142.2 L461.1,140.2 L462.8,138.3 L464.6,136.3 L466.3,134.5 L468.0,132.6 L469.8,130.7 L471.5,128.8 L473.2,126.9 L475.0,125.0 L476.7,123.0 L478.4,120.9 L480.2,118.6 L481.9,116.2 L483.6,113.4 L485.4,110.2 L487.1,106.0 L484.4,105.8 L481.7,105.5 L478.9,105.3 L476.2,105.1 L473.5,104.9 L470.8,104.7 L468.0,104.4 L465.3,104.2 L462.6,104.0 L459.9,103.8 L457.1,103.5 L454.4,103.3 L451.7,103.1 L448.9,102.8 L446.2,102.6 L443.5,102.4 L440.8,102.2 L438.1,102.0 L435.3,101.7 L432.6,101.5 L429.9,101.3 L427.1,101.0 L424.4,100.8 L421.7,100.6 L419.0,100.4 L416.2,100.2 L413.5,99.9 L410.8,99.7 L408.1,99.5 L405.3,99.2 L402.6,99.0 L399.9,98.8 L397.2,98.6 L394.4,98.3 L391.7,98.1 L389.0,97.9 L386.3,97.7 L383.5,97.5 L380.8,97.2 L378.1,97.0 L376.2,100.3 L374.4,103.3 L372.5,106.0 L370.7,108.5 L368.8,110.8 L366.9,113.1 L365.1,115.2 L363.2,117.3 L361.4,119.3 L359.5,121.3 L357.6,123.2 L355.8,125.2 L353.9,127.1 L352.1,129.0 L350.2,131.0 L348.3,132.9 L346.5,134.9 L344.6,136.9 L342.8,138.9 L340.9,141.0 L339.0,143.1 L337.2,145.3 L335.3,147.6 L333.5,149.9 L331.6,152.3 L329.7,154.8 L327.9,157.4 L326.0,160.1 L324.2,162.9 L322.3,165.8 L320.4,168.9 L318.6,172.0 L316.7,175.3 L314.9,178.7 L313.0,182.3 L311.1,185.9 L309.3,189.5 L307.4,193.2 L305.6,196.9 L303.7,200.5Z" fill="#0000ff"/>
<path d="M305.6,196.9 L317.1,199.2 L328.6,201.5 L340.0,204.1 L351.4,206.7 L362.8,209.3 L374.3,212.0 L385.7,214.7 L397.0,217.5 L408.4,220.5 L419.5,224.0 M307.4,193.2 L318.9,195.4 L330.4,197.6 L341.8,200.0 L353.2,202.5 L364.6,205.0 L376.0,207.5 L387.4,210.1 L398.8,212.7 L410.1,215.5 L421.3,218.8 M309.3,189.5 L320.8,191.6 L332.2,193.7 L343.6,196.0 L355.0,198.3 L366.4,200.7 L377.8,203.1 L389.2,205.6 L400.5,208.1 L411.8,210.8 L423.0,214.0 M311.1,185.9 L322.6,187.8 L334.0,189.8 L345.4,192.0 L356.8,194.3 L368.2,196.6 L379.6,198.9 L390.9,201.2 L402.3,203.6 L413.6,206.3 L424.7,209.3 M313.0,182.3 L324.4,184.1 L335.9,186.0 L347.3,188.1 L358.6,190.3 L370.0,192.5 L381.4,194.7 L392.7,197.0 L404.0,199.3 L415.3,201.8 L426.5,204.7 M314.9,178.7 L326.3,180.5 L337.7,182.3 L349.1,184.3 L360.4,186.4 L371.8,188.5 L383.1,190.6 L394.5,192.7 L405.8,194.9 L417.1,197.3 L428.2,200.2 M316.7,175.3 L328.1,177.0 L339.5,178.7 L350.9,180.6 L362.2,182.6 L373.6,184.5 L384.9,186.6 L396.2,188.6 L407.5,190.7 L418.8,193.0 L429.9,195.7 M318.6,172.0 L330.0,173.6 L341.4,175.2 L352.7,177.0 L364.0,178.8 L375.4,180.7 L386.7,182.6 L398.0,184.5 L409.3,186.5 L420.5,188.7 L431.7,191.2 M320.4,168.9 L331.8,170.3 L343.2,171.8 L354.5,173.5 L365.8,175.2 L377.2,177.0 L388.5,178.8 L399.8,180.6 L411.0,182.5 L422.3,184.5 L433.4,186.9 M322.3,165.8 L333.7,167.2 L345.0,168.6 L356.3,170.1 L367.6,171.8 L378.9,173.4 L390.2,175.1 L401.5,176.8 L412.8,178.5 L424.0,180.4 L435.1,182.7 M324.2,162.9 L335.5,164.1 L346.9,165.4 L358.2,166.9 L369.4,168.4 L380.7,170.0 L392.0,171.5 L403.3,173.1 L414.5,174.8 L425.8,176.6 L436.9,178.7 M326.0,160.1 L337.4,161.2 L348.7,162.5 L360.0,163.8 L371.2,165.3 L382.5,166.7 L393.8,168.2 L405.0,169.6 L416.3,171.2 L427.5,172.9 L438.6,174.9 M327.9,157.4 L339.2,158.5 L350.5,159.6 L361.8,160.9 L373.0,162.2 L384.3,163.6 L395.6,164.9 L406.8,166.3 L418.0,167.8 L429.2,169.4 L440.3,171.3 M329.7,154.8 L341.0,155.8 L352.3,156.9 L363.6,158.1 L374.8,159.3 L386.1,160.6 L397.3,161.9 L408.6,163.2 L419.8,164.6 L431.0,166.1 L442.1,167.9 M331.6,152.3 L342.9,153.3 L354.2,154.3 L365.4,155.4 L376.7,156.6 L387.9,157.8 L399.1,159.0 L410.3,160.2 L421.5,161.5 L432.7,162.9 L443.8,164.7 M333.5,149.9 L344.7,150.8 L356.0,151.7 L367.2,152.8 L378.5,153.9 L389.7,155.1 L400.9,156.2 L412.1,157.4 L423.3,158.6 L434.5,160.0 L445.5,161.6 M335.3,147.6 L346.6,148.4 L357.8,149.3 L369.0,150.4 L380.3,151.4 L391.5,152.5 L402.7,153.6 L413.9,154.7 L425.0,155.9 L436.2,157.2 L447.3,158.8 M337.2,145.3 L348.4,146.2 L359.7,147.0 L370.9,148.0 L382.1,149.0 L393.2,150.1 L404.4,151.1 L415.6,152.2 L426.8,153.3 L437.9,154.5 L449.0,156.0 M339.0,143.1 L350.3,143.9 L361.5,144.8 L372.7,145.7 L383.9,146.7 L395.0,147.7 L406.2,148.7 L417.4,149.8 L428.5,150.8 L439.7,152.0 L450.7,153.5 M340.9,141.0 L352.1,141.8 L363.3,142.6 L374.5,143.5 L385.7,144.5 L396.8,145.5 L408.0,146.4 L419.1,147.4 L430.3,148.5 L441.4,149.6 L452.5,151.0 M342.8,138.9 L354.0,139.7 L365.1,140.5 L376.3,141.4 L387.5,142.3 L398.6,143.3 L409.8,144.2 L420.9,145.2 L432.0,146.2 L443.1,147.4 L454.2,148.7 M344.6,136.9 L355.8,137.7 L367.0,138.4 L378.1,139.3 L389.3,140.2 L400.4,141.2 L411.5,142.1 L422.7,143.1 L433.8,144.1 L444.9,145.2 L455.9,146.5 M346.5,134.9 L357.6,135.6 L368.8,136.4 L379.9,137.3 L391.1,138.2 L402.2,139.1 L413.3,140.1 L424.4,141.0 L435.5,142.0 L446.6,143.0 L457.6,144.3 M348.3,132.9 L359.5,133.7 L370.6,134.5 L381.8,135.3 L392.9,136.2 L404.0,137.1 L415.1,138.0 L426.2,139.0 L437.3,139.9 L448.4,141.0 L459.4,142.2 M350.2,131.0 L361.3,131.7 L372.5,132.5 L383.6,133.4 L394.7,134.3 L405.8,135.2 L416.9,136.1 L428.0,137.0 L439.0,138.0 L450.1,139.0 L461.1,140.2 M352.1,129.0 L363.2,129.8 L374.3,130.6 L385.4,131.5 L396.5,132.4 L407.6,133.3 L418.6,134.2 L429.7,135.1 L440.8,136.0 L451.8,137.1 L462.8,138.3 M353.9,127.1 L365.0,127.9 L376.1,128.7 L387.2,129.6 L398.3,130.5 L409.3,131.4 L420.4,132.3 L431.5,133.2 L442.5,134.1 L453.6,135.2 L464.6,136.3 M355.8,125.2 L366.9,126.0 L377.9,126.8 L389.0,127.7 L400.1,128.6 L411.1,129.5 L422.2,130.4 L433.2,131.3 L444.3,132.3 L455.3,133.3 L466.3,134.5 M357.6,123.2 L368.7,124.1 L379.8,124.9 L390.8,125.8 L401.9,126.7 L412.9,127.6 L424.0,128.5 L435.0,129.5 L446.0,130.4 L457.1,131.4 L468.0,132.6 M359.5,121.3 L370.6,122.1 L381.6,123.0 L392.6,123.9 L403.7,124.8 L414.7,125.7 L425.7,126.6 L436.8,127.6 L447.8,128.5 L458.8,129.6 L469.8,130.7 M361.4,119.3 L372.4,120.2 L383.4,121.0 L394.5,121.9 L405.5,122.9 L416.5,123.8 L427.5,124.8 L438.5,125.7 L449.5,126.7 L460.5,127.7 L471.5,128.8 M363.2,117.3 L374.2,118.2 L385.3,119.0 L396.3,120.0 L407.3,120.9 L418.3,121.9 L429.3,122.8 L440.3,123.8 L451.3,124.8 L462.3,125.8 L473.2,126.9 M365.1,115.2 L376.1,116.1 L387.1,117.0 L398.1,118.0 L409.1,118.9 L420.1,119.9 L431.1,120.9 L442.1,121.8 L453.0,122.8 L464.0,123.9 L475.0,125.0 M366.9,113.1 L377.9,114.0 L388.9,114.9 L399.9,115.9 L410.9,116.9 L421.9,117.8 L432.8,118.8 L443.8,119.8 L454.8,120.8 L465.8,121.9 L476.7,123.0 M368.8,110.8 L379.8,111.8 L390.8,112.7 L401.7,113.7 L412.7,114.7 L423.7,115.7 L434.6,116.7 L445.6,117.7 L456.5,118.7 L467.5,119.8 L478.4,120.9 M370.7,108.5 L381.6,109.4 L392.6,110.4 L403.5,111.4 L414.5,112.4 L425.4,113.4 L436.4,114.4 L447.3,115.5 L458.3,116.5 L469.2,117.5 L480.2,118.6 M372.5,106.0 L383.5,107.0 L394.4,108.0 L405.4,109.0 L416.3,110.0 L427.2,111.0 L438.2,112.0 L449.1,113.0 L460.0,114.1 L471.0,115.1 L481.9,116.2 M374.4,103.3 L385.3,104.3 L396.2,105.3 L407.2,106.3 L418.1,107.3 L429.0,108.3 L439.9,109.3 L450.9,110.3 L461.8,111.3 L472.7,112.4 L483.6,113.4 M376.2,100.3 L387.2,101.3 L398.1,102.3 L409.0,103.3 L419.9,104.3 L430.8,105.2 L441.7,106.2 L452.6,107.2 L463.5,108.2 L474.5,109.2 L485.4,110.2 M306.6,201.1 L314.0,186.4 L321.4,172.4 L328.9,160.4 L336.3,150.1 L343.7,141.2 L351.1,133.1 L358.6,125.4 L366.0,117.5 L373.4,108.7 L380.8,97.2 M309.5,201.7 L316.9,186.9 L324.3,172.8 L331.7,160.7 L339.1,150.4 L346.5,141.4 L353.9,133.3 L361.3,125.6 L368.7,117.7 L376.1,109.0 L383.5,97.4 M312.3,202.4 L319.7,187.3 L327.1,173.2 L334.5,161.0 L341.9,150.6 L349.3,141.6 L356.7,133.5 L364.1,125.8 L371.5,117.9 L378.9,109.2 L386.3,97.7 M315.2,203.0 L322.6,187.8 L330.0,173.6 L337.4,161.2 L344.7,150.8 L352.1,141.8 L359.5,133.7 L366.9,126.0 L374.2,118.2 L381.6,109.4 L389.0,97.9 M318.1,203.6 L325.5,188.3 L332.8,174.0 L340.2,161.5 L347.6,151.0 L354.9,142.0 L362.3,133.9 L369.6,126.2 L377.0,118.4 L384.4,109.7 L391.7,98.1 M321.0,204.2 L328.3,188.8 L335.7,174.4 L343.0,161.8 L350.4,151.3 L357.7,142.2 L365.1,134.1 L372.4,126.4 L379.8,118.6 L387.1,109.9 L394.4,98.3 M323.9,204.9 L331.2,189.3 L338.5,174.8 L345.9,162.1 L353.2,151.5 L360.5,142.4 L367.8,134.2 L375.2,126.6 L382.5,118.8 L389.8,110.2 L397.2,98.6 M326.7,205.5 L334.0,189.8 L341.4,175.2 L348.7,162.5 L356.0,151.7 L363.3,142.6 L370.6,134.5 L377.9,126.8 L385.3,119.0 L392.6,110.4 L399.9,98.8 M329.6,206.2 L336.9,190.3 L344.2,175.6 L351.5,162.8 L358.8,152.0 L366.1,142.8 L373.4,134.7 L380.7,127.0 L388.0,119.3 L395.3,110.7 L402.6,99.0 M332.5,206.9 L339.7,190.9 L347.0,176.1 L354.3,163.1 L361.6,152.3 L368.9,143.1 L376.2,134.9 L383.5,127.2 L390.8,119.5 L398.1,110.9 L405.3,99.2 M335.3,207.6 L342.6,191.5 L349.9,176.5 L357.1,163.5 L364.4,152.6 L371.7,143.3 L379.0,135.1 L386.2,127.4 L393.5,119.7 L400.8,111.2 L408.1,99.5 M338.2,208.3 L345.4,192.0 L352.7,177.0 L360.0,163.8 L367.2,152.8 L374.5,143.5 L381.8,135.3 L389.0,127.7 L396.3,120.0 L403.5,111.4 L410.8,99.7 M341.0,209.0 L348.3,192.6 L355.5,177.5 L362.8,164.2 L370.0,153.1 L377.3,143.8 L384.5,135.6 L391.8,127.9 L399.0,120.2 L406.3,111.7 L413.5,99.9 M343.9,209.7 L351.1,193.2 L358.4,177.9 L365.6,164.5 L372.8,153.4 L380.1,144.0 L387.3,135.8 L394.5,128.1 L401.8,120.4 L409.0,111.9 L416.2,100.1 M346.8,210.4 L354.0,193.7 L361.2,178.4 L368.4,164.9 L375.6,153.7 L382.9,144.2 L390.1,136.0 L397.3,128.3 L404.5,120.7 L411.8,112.2 L419.0,100.4 M349.6,211.1 L356.8,194.3 L364.0,178.8 L371.2,165.3 L378.5,153.9 L385.7,144.5 L392.9,136.2 L400.1,128.6 L407.3,120.9 L414.5,112.4 L421.7,100.6 M352.5,211.9 L359.7,194.9 L366.9,179.3 L374.1,165.6 L381.3,154.2 L388.5,144.7 L395.6,136.4 L402.8,128.8 L410.0,121.2 L417.2,112.7 L424.4,100.8 M355.3,212.6 L362.5,195.4 L369.7,179.8 L376.9,166.0 L384.1,154.5 L391.2,145.0 L398.4,136.7 L405.6,129.0 L412.8,121.4 L420.0,112.9 L427.1,101.0 M358.2,213.3 L365.4,196.0 L372.5,180.2 L379.7,166.3 L386.9,154.8 L394.0,145.2 L401.2,136.9 L408.4,129.2 L415.5,121.6 L422.7,113.2 L429.9,101.3 M361.1,214.0 L368.2,196.6 L375.4,180.7 L382.5,166.7 L389.7,155.1 L396.8,145.5 L404.0,137.1 L411.1,129.5 L418.3,121.9 L425.4,113.4 L432.6,101.5 M363.9,214.7 L371.1,197.1 L378.2,181.2 L385.3,167.1 L392.5,155.4 L399.6,145.7 L406.8,137.4 L413.9,129.7 L421.0,122.1 L428.2,113.7 L435.3,101.7 M366.8,215.5 L373.9,197.7 L381.0,181.7 L388.2,167.4 L395.3,155.7 L402.4,145.9 L409.5,137.6 L416.7,129.9 L423.8,122.3 L430.9,113.9 L438.0,101.9 M369.6,216.2 L376.7,198.3 L383.9,182.1 L391.0,167.8 L398.1,155.9 L405.2,146.2 L412.3,137.8 L419.4,130.2 L426.5,122.6 L433.7,114.2 L440.8,102.2 M372.5,216.9 L379.6,198.9 L386.7,182.6 L393.8,168.2 L400.9,156.2 L408.0,146.4 L415.1,138.0 L422.2,130.4 L429.3,122.8 L436.4,114.4 L443.5,102.4 M375.3,217.6 L382.4,199.5 L389.5,183.1 L396.6,168.5 L403.7,156.5 L410.8,146.7 L417.9,138.3 L425.0,130.6 L432.0,123.1 L439.1,114.7 L446.2,102.6 M378.2,218.4 L385.3,200.1 L392.3,183.6 L399.4,168.9 L406.5,156.8 L413.6,146.9 L420.6,138.5 L427.7,130.9 L434.8,123.3 L441.9,114.9 L448.9,102.8 M381.0,219.1 L388.1,200.6 L395.2,184.1 L402.2,169.3 L409.3,157.1 L416.4,147.2 L423.4,138.7 L430.5,131.1 L437.5,123.6 L444.6,115.2 L451.7,103.1 M383.9,219.8 L390.9,201.2 L398.0,184.5 L405.0,169.6 L412.1,157.4 L419.1,147.4 L426.2,139.0 L433.2,131.3 L440.3,123.8 L447.3,115.5 L454.4,103.3 M386.7,220.6 L393.8,201.8 L400.8,185.0 L407.9,170.0 L414.9,157.7 L421.9,147.7 L429.0,139.2 L436.0,131.6 L443.0,124.0 L450.1,115.7 L457.1,103.5 M389.6,221.3 L396.6,202.4 L403.6,185.5 L410.7,170.4 L417.7,158.0 L424.7,148.0 L431.7,139.5 L438.8,131.8 L445.8,124.3 L452.8,116.0 L459.8,103.7 M392.4,222.1 L399.5,203.0 L406.5,186.0 L413.5,170.8 L420.5,158.3 L427.5,148.2 L434.5,139.7 L441.5,132.0 L448.5,124.5 L455.6,116.2 L462.6,104.0 M395.3,222.8 L402.3,203.6 L409.3,186.5 L416.3,171.2 L423.3,158.6 L430.3,148.5 L437.3,139.9 L444.3,132.3 L451.3,124.8 L458.3,116.5 L465.3,104.2 M398.1,223.6 L405.1,204.3 L412.1,187.0 L419.1,171.6 L426.1,158.9 L433.1,148.7 L440.1,140.2 L447.1,132.5 L454.0,125.0 L461.0,116.7 L468.0,104.4 M401.0,224.4 L408.0,204.9 L414.9,187.5 L421.9,172.0 L428.9,159.2 L435.9,149.0 L442.8,140.4 L449.8,132.7 L456.8,125.3 L463.8,117.0 L470.8,104.6 M403.8,225.2 L410.8,205.5 L417.7,188.1 L424.7,172.4 L431.7,159.6 L438.6,149.3 L445.6,140.7 L452.6,133.0 L459.5,125.5 L466.5,117.2 L473.5,104.9 M406.6,226.1 L413.6,206.3 L420.5,188.7 L427.5,172.9 L434.5,160.0 L441.4,149.6 L448.4,141.0 L455.3,133.3 L462.3,125.8 L469.2,117.5 L476.2,105.1 M409.4,227.0 L416.4,207.0 L423.3,189.3 L430.3,173.4 L437.2,160.4 L444.2,150.0 L451.1,141.3 L458.1,133.6 L465.0,126.1 L472.0,117.8 L478.9,105.3 M412.2,227.9 L419.2,207.8 L426.1,190.0 L433.0,173.9 L440.0,160.8 L446.9,150.3 L453.9,141.6 L460.8,133.9 L467.8,126.4 L474.7,118.1 L481.7,105.5 M415.0,228.9 L421.9,208.6 L428.9,190.6 L435.8,174.4 L442.7,161.2 L449.7,150.7 L456.6,141.9 L463.6,134.2 L470.5,126.6 L477.4,118.3 L484.4,105.8" fill="none" stroke="rgba(165,165,165,0.5)" stroke-width="0.5"/>
<path d="M300.0,187.5 L302.9,188.1 L305.7,188.7 L308.6,189.3 L311.4,189.8 L314.3,190.4 L317.2,191.0 L320.0,191.6 L322.9,192.2 L325.8,192.7 L328.6,193.2 L331.5,193.8 L334.4,194.3 L337.3,194.8 L340.1,195.3 L343.0,195.8 L345.9,196.3 L348.8,196.8 L351.6,197.3 L354.5,197.8 L357.4,198.3 L360.3,198.8 L363.2,199.3 L366.0,199.8 L368.9,200.3 L371.8,200.7 L374.7,201.2 L377.5,201.7 L380.4,202.2 L383.3,202.7 L386.2,203.2 L389.1,203.7 L391.9,204.2 L394.8,204.7 L397.7,205.2 L400.6,205.7 L403.4,206.2 L406.3,206.8 L409.2,207.4 L412.0,207.9 L414.9,208.5 L416.7,203.3 L418.5,198.9 L420.3,194.8 L422.1,191.0 L423.9,187.2 L425.6,183.5 L427.4,179.9 L429.2,176.4 L431.0,173.0 L432.8,169.8 L434.6,166.7 L436.4,163.8 L438.2,161.0 L440.0,158.4 L441.8,155.9 L443.5,153.5 L445.3,151.2 L447.1,149.0 L448.9,147.0 L450.7,144.9 L452.5,143.0 L454.3,141.0 L456.1,139.1 L457.9,137.2 L459.7,135.3 L461.4,133.4 L463.2,131.5 L465.0,129.6 L466.8,127.5 L468.6,125.5 L470.4,123.3 L472.2,121.0 L474.0,118.6 L475.8,116.1 L477.6,113.5 L479.3,110.7 L481.1,107.8 L482.9,105.0 L484.7,102.2 L486.5,99.6 L483.7,99.2 L480.9,98.8 L478.1,98.4 L475.3,98.0 L472.5,97.6 L469.7,97.3 L466.9,96.9 L464.1,96.5 L461.3,96.1 L458.5,95.7 L455.7,95.3 L452.9,94.9 L450.1,94.5 L447.3,94.1 L444.5,93.8 L441.7,93.4 L438.9,93.0 L436.1,92.6 L433.3,92.2 L430.4,91.8 L427.6,91.4 L424.8,91.0 L422.0,90.6 L419.2,90.2 L416.4,89.8 L413.6,89.5 L410.8,89.1 L408.0,88.7 L405.2,88.3 L402.4,87.9 L399.6,87.5 L396.8,87.1 L394.0,86.7 L391.2,86.3 L388.4,86.0 L385.6,85.6 L382.8,85.2 L380.0,84.8 L377.2,84.4 L374.4,84.0 L372.5,87.3 L370.7,90.3 L368.8,93.0 L367.0,95.5 L365.1,97.8 L363.2,100.1 L361.4,102.2 L359.5,104.3 L357.7,106.3 L355.8,108.3 L353.9,110.2 L352.1,112.2 L350.2,114.1 L348.4,116.0 L346.5,118.0 L344.6,119.9 L342.8,121.9 L340.9,123.9 L339.1,125.9 L337.2,128.0 L335.3,130.1 L333.5,132.3 L331.6,134.6 L329.8,136.9 L327.9,139.3 L326.0,141.8 L324.2,144.4 L322.3,147.1 L320.5,149.9 L318.6,152.8 L316.7,155.9 L314.9,159.0 L313.0,162.3 L311.2,165.7 L309.3,169.3 L307.4,172.9 L305.6,176.5 L303.7,180.2 L301.9,183.9 L300.0,187.5Z" fill="#0b7d0b"/>
<path d="M301.9,183.9 L313.3,186.1 L324.7,188.2 L336.2,190.2 L347.7,192.1 L359.2,193.9 L370.7,195.7 L382.2,197.5 L393.7,199.3 L405.2,201.2 L416.7,203.3 M303.7,180.2 L315.2,182.3 L326.6,184.4 L338.1,186.3 L349.6,188.1 L361.0,189.8 L372.5,191.6 L384.0,193.3 L395.5,195.1 L407.0,196.9 L418.5,198.9 M305.6,176.5 L317.0,178.6 L328.4,180.6 L339.9,182.5 L351.4,184.2 L362.9,186.0 L374.4,187.7 L385.9,189.4 L397.4,191.1 L408.8,192.9 L420.3,194.8 M307.4,172.9 L318.9,174.9 L330.3,176.9 L341.7,178.7 L353.2,180.5 L364.7,182.2 L376.2,183.9 L387.7,185.5 L399.2,187.2 L410.6,189.0 L422.1,191.0 M309.3,169.3 L320.7,171.3 L332.1,173.2 L343.6,175.1 L355.1,176.8 L366.5,178.5 L378.0,180.1 L389.5,181.8 L401.0,183.5 L412.4,185.2 L423.9,187.2 M311.2,165.7 L322.6,167.7 L334.0,169.7 L345.4,171.5 L356.9,173.2 L368.4,174.9 L379.8,176.5 L391.3,178.2 L402.8,179.8 L414.2,181.6 L425.6,183.5 M313.0,162.3 L324.4,164.3 L335.8,166.2 L347.3,168.0 L358.7,169.7 L370.2,171.3 L381.6,173.0 L393.1,174.6 L404.6,176.3 L416.0,178.0 L427.4,179.9 M314.9,159.0 L326.3,161.0 L337.7,162.9 L349.1,164.6 L360.6,166.3 L372.0,167.9 L383.5,169.6 L394.9,171.2 L406.4,172.8 L417.8,174.5 L429.2,176.4 M316.7,155.9 L328.1,157.8 L339.5,159.6 L351.0,161.4 L362.4,163.0 L373.8,164.7 L385.3,166.3 L396.7,167.9 L408.2,169.5 L419.6,171.2 L431.0,173.0 M318.6,152.8 L330.0,154.7 L341.4,156.5 L352.8,158.3 L364.2,159.9 L375.7,161.5 L387.1,163.1 L398.5,164.7 L410.0,166.3 L421.4,167.9 L432.8,169.8 M320.5,149.9 L331.8,151.7 L343.2,153.6 L354.6,155.3 L366.1,156.9 L377.5,158.5 L388.9,160.1 L400.3,161.6 L411.8,163.2 L423.2,164.9 L434.6,166.7 M322.3,147.1 L333.7,148.9 L345.1,150.7 L356.5,152.4 L367.9,154.0 L379.3,155.6 L390.7,157.2 L402.2,158.8 L413.6,160.3 L425.0,162.0 L436.4,163.8 M324.2,144.4 L335.5,146.2 L346.9,148.0 L358.3,149.7 L369.7,151.3 L381.1,152.9 L392.6,154.4 L404.0,156.0 L415.4,157.6 L426.8,159.2 L438.2,161.0 M326.0,141.8 L337.4,143.6 L348.8,145.4 L360.2,147.1 L371.6,148.7 L383.0,150.3 L394.4,151.8 L405.8,153.4 L417.2,155.0 L428.6,156.6 L440.0,158.4 M327.9,139.3 L339.3,141.1 L350.6,142.9 L362.0,144.6 L373.4,146.2 L384.8,147.8 L396.2,149.3 L407.6,150.9 L419.0,152.5 L430.4,154.1 L441.8,155.9 M329.8,136.9 L341.1,138.7 L352.5,140.5 L363.8,142.2 L375.2,143.8 L386.6,145.4 L398.0,146.9 L409.4,148.5 L420.8,150.1 L432.2,151.7 L443.5,153.5 M331.6,134.6 L343.0,136.4 L354.3,138.2 L365.7,139.9 L377.1,141.5 L388.4,143.1 L399.8,144.7 L411.2,146.2 L422.6,147.8 L434.0,149.5 L445.3,151.2 M333.5,132.3 L344.8,134.1 L356.2,135.9 L367.5,137.6 L378.9,139.2 L390.3,140.8 L401.6,142.4 L413.0,144.0 L424.4,145.6 L435.8,147.3 L447.1,149.0 M335.3,130.1 L346.7,132.0 L358.0,133.7 L369.4,135.4 L380.7,137.1 L392.1,138.7 L403.5,140.3 L414.8,141.9 L426.2,143.5 L437.6,145.2 L448.9,147.0 M337.2,128.0 L348.5,129.8 L359.9,131.6 L371.2,133.3 L382.6,135.0 L393.9,136.6 L405.3,138.2 L416.6,139.9 L428.0,141.5 L439.4,143.2 L450.7,144.9 M339.1,125.9 L350.4,127.8 L361.7,129.6 L373.0,131.3 L384.4,132.9 L395.7,134.6 L407.1,136.2 L418.5,137.9 L429.8,139.5 L441.2,141.2 L452.5,143.0 M340.9,123.9 L352.2,125.7 L363.6,127.5 L374.9,129.3 L386.2,130.9 L397.6,132.6 L408.9,134.2 L420.3,135.9 L431.6,137.5 L443.0,139.2 L454.3,141.0 M342.8,121.9 L354.1,123.7 L365.4,125.5 L376.7,127.3 L388.1,129.0 L399.4,130.6 L410.7,132.3 L422.1,134.0 L433.4,135.6 L444.8,137.3 L456.1,139.1 M344.6,119.9 L355.9,121.8 L367.2,123.6 L378.6,125.3 L389.9,127.0 L401.2,128.7 L412.6,130.4 L423.9,132.0 L435.2,133.7 L446.6,135.4 L457.9,137.2 M346.5,118.0 L357.8,119.8 L369.1,121.6 L380.4,123.4 L391.7,125.1 L403.1,126.8 L414.4,128.5 L425.7,130.1 L437.0,131.8 L448.3,133.5 L459.7,135.3 M348.4,116.0 L359.7,117.9 L370.9,119.7 L382.3,121.4 L393.6,123.1 L404.9,124.8 L416.2,126.5 L427.5,128.2 L438.8,129.9 L450.1,131.6 L461.4,133.4 M350.2,114.1 L361.5,115.9 L372.8,117.7 L384.1,119.5 L395.4,121.2 L406.7,122.9 L418.0,124.6 L429.3,126.3 L440.6,128.0 L451.9,129.7 L463.2,131.5 M352.1,112.2 L363.4,114.0 L374.6,115.8 L385.9,117.5 L397.2,119.3 L408.5,121.0 L419.8,122.7 L431.1,124.4 L442.4,126.1 L453.7,127.8 L465.0,129.6 M353.9,110.2 L365.2,112.0 L376.5,113.8 L387.8,115.6 L399.1,117.3 L410.4,119.0 L421.7,120.7 L432.9,122.4 L444.2,124.1 L455.5,125.8 L466.8,127.5 M355.8,108.3 L367.1,110.1 L378.3,111.8 L389.6,113.6 L400.9,115.3 L412.2,117.0 L423.5,118.6 L434.8,120.3 L446.0,122.0 L457.3,123.7 L468.6,125.5 M357.7,106.3 L368.9,108.1 L380.2,109.8 L391.5,111.5 L402.7,113.2 L414.0,114.9 L425.3,116.5 L436.6,118.2 L447.8,119.9 L459.1,121.6 L470.4,123.3 M359.5,104.3 L370.8,106.0 L382.0,107.7 L393.3,109.4 L404.6,111.1 L415.8,112.7 L427.1,114.4 L438.4,116.0 L449.7,117.7 L460.9,119.3 L472.2,121.0 M361.4,102.2 L372.6,103.9 L383.9,105.6 L395.1,107.2 L406.4,108.8 L417.7,110.5 L428.9,112.1 L440.2,113.7 L451.5,115.3 L462.7,117.0 L474.0,118.6 M363.2,100.1 L374.5,101.7 L385.7,103.3 L397.0,104.9 L408.2,106.5 L419.5,108.1 L430.7,109.7 L442.0,111.3 L453.3,112.9 L464.5,114.5 L475.8,116.1 M365.1,97.8 L376.3,99.4 L387.6,101.0 L398.8,102.6 L410.1,104.1 L421.3,105.7 L432.6,107.2 L443.8,108.8 L455.1,110.3 L466.3,111.9 L477.6,113.5 M367.0,95.5 L378.2,97.0 L389.4,98.6 L400.7,100.1 L411.9,101.6 L423.1,103.1 L434.4,104.6 L445.6,106.1 L456.9,107.6 L468.1,109.1 L479.3,110.7 M368.8,93.0 L380.0,94.5 L391.3,96.0 L402.5,97.5 L413.7,98.9 L425.0,100.4 L436.2,101.9 L447.4,103.4 L458.7,104.9 L469.9,106.3 L481.1,107.8 M370.7,90.3 L381.9,91.8 L393.1,93.2 L404.3,94.7 L415.6,96.2 L426.8,97.6 L438.0,99.1 L449.2,100.6 L460.5,102.0 L471.7,103.5 L482.9,105.0 M372.5,87.3 L383.8,88.8 L395.0,90.3 L406.2,91.8 L417.4,93.3 L428.6,94.8 L439.8,96.2 L451.1,97.7 L462.3,99.2 L473.5,100.7 L484.7,102.2 M302.9,188.1 L310.3,173.4 L317.7,159.5 L325.2,147.5 L332.6,137.4 L340.0,128.5 L347.5,120.4 L354.9,112.6 L362.3,104.7 L369.8,95.9 L377.2,84.4 M305.7,188.7 L313.2,173.9 L320.6,160.0 L328.0,148.0 L335.4,137.8 L342.9,128.9 L350.3,120.8 L357.7,113.1 L365.1,105.1 L372.6,96.2 L380.0,84.8 M308.6,189.3 L316.0,174.4 L323.4,160.5 L330.9,148.5 L338.3,138.3 L345.7,129.4 L353.1,121.3 L360.5,113.5 L368.0,105.6 L375.4,96.6 L382.8,85.2 M311.4,189.8 L318.9,174.9 L326.3,161.0 L333.7,148.9 L341.1,138.7 L348.5,129.8 L355.9,121.8 L363.4,114.0 L370.8,106.0 L378.2,97.0 L385.6,85.6 M314.3,190.4 L321.7,175.4 L329.1,161.4 L336.5,149.4 L343.9,139.2 L351.4,130.3 L358.8,122.2 L366.2,114.4 L373.6,106.4 L381.0,97.4 L388.4,85.9 M317.2,191.0 L324.6,175.9 L332.0,161.9 L339.4,149.8 L346.8,139.6 L354.2,130.7 L361.6,122.7 L369.0,114.9 L376.4,106.9 L383.8,97.8 L391.2,86.3 M320.0,191.6 L327.4,176.4 L334.8,162.4 L342.2,150.3 L349.6,140.1 L357.0,131.2 L364.4,123.1 L371.8,115.3 L379.2,107.3 L386.6,98.2 L394.0,86.7 M322.9,192.2 L330.3,176.9 L337.7,162.9 L345.1,150.7 L352.5,140.5 L359.9,131.6 L367.2,123.6 L374.6,115.8 L382.0,107.7 L389.4,98.6 L396.8,87.1 M325.8,192.7 L333.1,177.4 L340.5,163.3 L347.9,151.2 L355.3,140.9 L362.7,132.1 L370.1,124.0 L377.5,116.2 L384.9,108.1 L392.2,98.9 L399.6,87.5 M328.6,193.3 L336.0,177.8 L343.4,163.8 L350.8,151.6 L358.1,141.4 L365.5,132.5 L372.9,124.5 L380.3,116.7 L387.7,108.6 L395.0,99.3 L402.4,87.9 M331.5,193.8 L338.9,178.3 L346.2,164.2 L353.6,152.0 L361.0,141.8 L368.4,132.9 L375.7,124.9 L383.1,117.1 L390.5,109.0 L397.9,99.7 L405.2,88.3 M334.4,194.3 L341.7,178.7 L349.1,164.6 L356.5,152.4 L363.8,142.2 L371.2,133.3 L378.6,125.3 L385.9,117.5 L393.3,109.4 L400.7,100.1 L408.0,88.7 M337.3,194.8 L344.6,179.2 L352.0,165.0 L359.3,152.8 L366.7,142.6 L374.0,133.7 L381.4,125.7 L388.8,118.0 L396.1,109.8 L403.5,100.5 L410.8,89.1 M340.1,195.3 L347.5,179.6 L354.8,165.5 L362.2,153.2 L369.5,143.0 L376.9,134.2 L384.2,126.2 L391.6,118.4 L398.9,110.2 L406.3,100.8 L413.6,89.5 M343.0,195.8 L350.3,180.0 L357.7,165.9 L365.0,153.6 L372.4,143.4 L379.7,134.6 L387.1,126.6 L394.4,118.8 L401.8,110.6 L409.1,101.2 L416.4,89.8 M345.9,196.3 L353.2,180.5 L360.6,166.3 L367.9,154.0 L375.2,143.8 L382.6,135.0 L389.9,127.0 L397.2,119.3 L404.6,111.1 L411.9,101.6 L419.2,90.2 M348.8,196.8 L356.1,180.9 L363.4,166.7 L370.7,154.4 L378.1,144.2 L385.4,135.4 L392.7,127.4 L400.1,119.7 L407.4,111.5 L414.7,102.0 L422.0,90.6 M351.6,197.3 L359.0,181.3 L366.3,167.1 L373.6,154.8 L380.9,144.6 L388.2,135.8 L395.6,127.9 L402.9,120.1 L410.2,111.9 L417.5,102.4 L424.8,91.0 M354.5,197.8 L361.8,181.8 L369.1,167.5 L376.5,155.2 L383.8,145.0 L391.1,136.2 L398.4,128.3 L405.7,120.5 L413.0,112.3 L420.3,102.7 L427.6,91.4 M357.4,198.3 L364.7,182.2 L372.0,167.9 L379.3,155.6 L386.6,145.4 L393.9,136.6 L401.2,128.7 L408.5,121.0 L415.8,112.7 L423.1,103.1 L430.4,91.8 M360.3,198.8 L367.6,182.6 L374.9,168.3 L382.2,156.0 L389.5,145.8 L396.8,137.0 L404.1,129.1 L411.4,121.4 L418.7,113.1 L426.0,103.5 L433.3,92.2 M363.2,199.3 L370.4,183.0 L377.7,168.7 L385.0,156.4 L392.3,146.2 L399.6,137.4 L406.9,129.5 L414.2,121.8 L421.5,113.5 L428.8,103.9 L436.1,92.6 M366.0,199.8 L373.3,183.4 L380.6,169.2 L387.9,156.8 L395.2,146.6 L402.4,137.8 L409.7,129.9 L417.0,122.2 L424.3,113.9 L431.6,104.2 L438.9,93.0 M368.9,200.3 L376.2,183.9 L383.5,169.6 L390.7,157.2 L398.0,146.9 L405.3,138.2 L412.6,130.4 L419.8,122.7 L427.1,114.4 L434.4,104.6 L441.7,93.4 M371.8,200.7 L379.1,184.3 L386.3,170.0 L393.6,157.6 L400.9,147.3 L408.1,138.6 L415.4,130.8 L422.7,123.1 L429.9,114.8 L437.2,105.0 L444.5,93.7 M374.7,201.2 L381.9,184.7 L389.2,170.4 L396.4,158.0 L403.7,147.7 L411.0,139.0 L418.2,131.2 L425.5,123.5 L432.7,115.2 L440.0,105.4 L447.3,94.1 M377.5,201.7 L384.8,185.1 L392.1,170.8 L399.3,158.4 L406.6,148.1 L413.8,139.5 L421.1,131.6 L428.3,123.9 L435.6,115.6 L442.8,105.7 L450.1,94.5 M380.4,202.2 L387.7,185.5 L394.9,171.2 L402.2,158.8 L409.4,148.5 L416.6,139.9 L423.9,132.0 L431.1,124.4 L438.4,116.0 L445.6,106.1 L452.9,94.9 M383.3,202.7 L390.5,186.0 L397.8,171.6 L405.0,159.2 L412.3,148.9 L419.5,140.3 L426.7,132.5 L434.0,124.8 L441.2,116.4 L448.4,106.5 L455.7,95.3 M386.2,203.2 L393.4,186.4 L400.6,172.0 L407.9,159.5 L415.1,149.3 L422.3,140.7 L429.6,132.9 L436.8,125.2 L444.0,116.8 L451.2,106.9 L458.5,95.7 M389.1,203.7 L396.3,186.8 L403.5,172.4 L410.7,159.9 L417.9,149.7 L425.2,141.1 L432.4,133.3 L439.6,125.6 L446.8,117.2 L454.1,107.3 L461.3,96.1 M391.9,204.2 L399.2,187.2 L406.4,172.8 L413.6,160.3 L420.8,150.1 L428.0,141.5 L435.2,133.7 L442.4,126.1 L449.7,117.7 L456.9,107.6 L464.1,96.5 M394.8,204.7 L402.0,187.7 L409.2,173.2 L416.4,160.7 L423.6,150.5 L430.8,141.9 L438.1,134.1 L445.3,126.5 L452.5,118.1 L459.7,108.0 L466.9,96.9 M397.7,205.2 L404.9,188.1 L412.1,173.7 L419.3,161.1 L426.5,150.9 L433.7,142.3 L440.9,134.6 L448.1,126.9 L455.3,118.5 L462.5,108.4 L469.7,97.3 M400.6,205.7 L407.8,188.5 L415.0,174.1 L422.1,161.5 L429.3,151.3 L436.5,142.7 L443.7,135.0 L450.9,127.3 L458.1,118.9 L465.3,108.8 L472.5,97.6 M403.4,206.2 L410.6,189.0 L417.8,174.5 L425.0,162.0 L432.2,151.7 L439.4,143.2 L446.6,135.4 L453.7,127.8 L460.9,119.3 L468.1,109.1 L475.3,98.0 M406.3,206.8 L413.5,189.5 L420.7,175.0 L427.8,162.4 L435.0,152.2 L442.2,143.6 L449.4,135.9 L456.6,128.2 L463.7,119.7 L470.9,109.5 L478.1,98.4 M409.2,207.4 L416.3,190.0 L423.5,175.4 L430.7,162.9 L437.9,152.6 L445.0,144.0 L452.2,136.3 L459.4,128.7 L466.6,120.2 L473.7,109.9 L480.9,98.8 M412.0,207.9 L419.2,190.5 L426.4,175.9 L433.5,163.3 L440.7,153.0 L447.9,144.5 L455.0,136.8 L462.2,129.1 L469.4,120.6 L476.5,110.3 L483.7,99.2" fill="none" stroke="rgba(165,165,165,0.5)" stroke-width="0.5"/>
<path d="M485.6,74.1 L494.0,194.0 L420.6,257.3 L306.7,226.8 M485.6,74.1 l2.2,0 M486.7,89.8 l2.2,0 M487.8,105.3 l2.2,0 M488.9,120.6 l2.2,0 M489.9,135.7 l2.2,0 M491.0,150.6 l2.2,0 M492.0,165.3 l2.2,0 M493.0,179.7 l2.2,0 M494.0,194.0 l2.2,0 M306.7,226.8 l0.3,-2 M330.8,233.3 l0.3,-2 M355.6,239.9 l0.3,-2 M380.8,246.7 l0.3,-2 M407.5,253.8 l0.3,-2 M318.7,230.0 l0.2,-1.3 M343.1,236.6 l0.2,-1.3 M368.2,243.3 l0.2,-1.3 M394.2,250.2 l0.2,-1.3 M427.3,251.5 l-1.6,-1 M441.9,238.9 l-1.6,-1 M457.3,225.7 l-1.6,-1 M471.6,213.3 l-1.6,-1 M485.7,201.2 l-1.6,-1" fill="none" stroke="#1a1a1a" stroke-width="1.2"/>
<text transform="translate(490.4,79.2) skewX(-11) scale(0.87,1)" font-size="12">1900</text>
<text transform="translate(491.5,94.9) skewX(-11) scale(0.87,1)" font-size="12">1800</text>
<text transform="translate(492.6,110.4) skewX(-11) scale(0.87,1)" font-size="12">1700</text>
<text transform="translate(493.7,125.7) skewX(-11) scale(0.87,1)" font-size="12">1600</text>
<text transform="translate(494.7,140.8) skewX(-11) scale(0.87,1)" font-size="12">1500</text>
<text transform="translate(495.8,155.7) skewX(-11) scale(0.87,1)" font-size="12">1400</text>
<text transform="translate(496.8,170.4) skewX(-11) scale(0.87,1)" font-size="12">1300</text>
<text transform="translate(497.8,184.8) skewX(-11) scale(0.87,1)" font-size="12">1200</text>
<text transform="translate(498.8,199.1) skewX(-11) scale(0.87,1)" font-size="12">1100</text>
<text transform="translate(545.5,204.2) rotate(-92.30)" font-size="12.85">Equilibrium Temperature (K)</text>
<text class="it" transform="translate(301.3,238.2) rotate(14)" text-anchor="middle" font-size="10.6" y="3.4">10</text>
<text class="it" transform="translate(325.9,246.5) rotate(14)" text-anchor="middle" font-size="10.6" y="3.4">8</text>
<text class="it" transform="translate(348.4,251.9) rotate(14)" text-anchor="middle" font-size="10.6" y="3.4">6</text>
<text class="it" transform="translate(373.9,259) rotate(14)" text-anchor="middle" font-size="10.6" y="3.4">4</text>
<text class="it" transform="translate(398.7,266.1) rotate(14)" text-anchor="middle" font-size="10.6" y="3.4">2</text>
<text transform="matrix(1,0.354,0.08,1,303.2,257)" font-size="12.2">Pressure (atm)</text>
<text class="it" transform="translate(441.3,261.3) rotate(16)" text-anchor="middle" font-size="10" y="3.2">0.6</text>
<text class="it" transform="translate(457.5,244.7) rotate(16)" text-anchor="middle" font-size="10" y="3.2">0.9</text>
<text class="it" transform="translate(472.2,232.2) rotate(16)" text-anchor="middle" font-size="10" y="3.2">1.2</text>
<text class="it" transform="translate(484.7,217.5) rotate(16)" text-anchor="middle" font-size="10" y="3.2">1.5</text>
<text class="it" transform="translate(500.6,205.6) rotate(16)" text-anchor="middle" font-size="10" y="3.2">1.8</text>
<g transform="translate(495.3,241.9) rotate(32.5)">
<line x1="-10" y1="0" x2="10" y2="0" stroke="#111" stroke-width="1.3"/>
<text class="it" x="0" y="-4.9" text-anchor="middle" font-size="10.5">O<tspan font-size="7.3" dy="2.6">2</tspan></text>
<text class="it" x="0" y="12.4" text-anchor="middle" font-size="10.5">CH<tspan font-size="7.3" dy="2.6">4</tspan></text>
</g>
<text x="292.5" y="121.2" font-size="19.5">b)</text>

</svg></body></html>
